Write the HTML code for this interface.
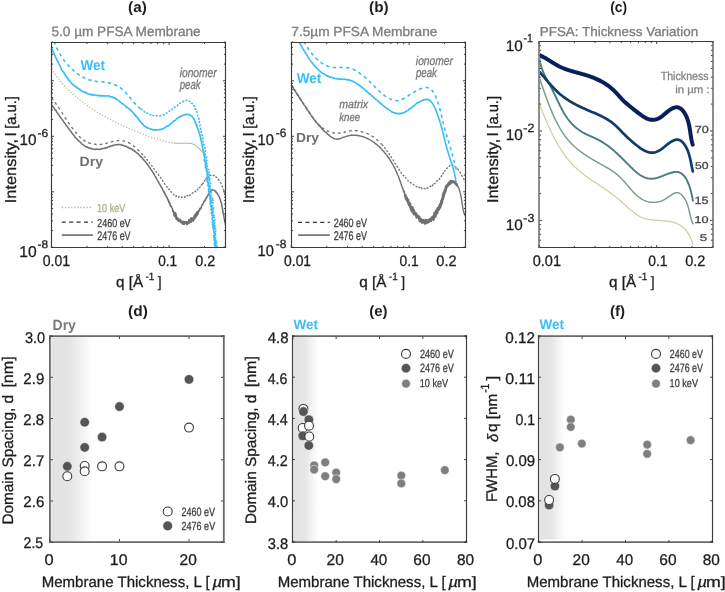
<!DOCTYPE html><html><head><meta charset="utf-8"><style>html,body{margin:0;padding:0;background:#fff;}svg{display:block;will-change:transform;}text{font-family:"Liberation Sans",sans-serif;text-rendering:geometricPrecision;}</style></head><body>
<svg width="725" height="592" viewBox="0 0 725 592">
<defs><linearGradient id="gr" x1="0" x2="1" y1="0" y2="0"><stop offset="0" stop-color="#e2e2e2"/><stop offset="0.44" stop-color="#e5e5e5"/><stop offset="1" stop-color="#fff"/></linearGradient></defs>
<rect width="725" height="592" fill="#fff"/>
<text x="128.14" y="11.9" font-size="14.75" textLength="18.58" lengthAdjust="spacingAndGlyphs" fill="#1e1e1e" font-weight="bold" >(a)</text>
<text x="369.14" y="11.9" font-size="14.75" textLength="19.48" lengthAdjust="spacingAndGlyphs" fill="#1e1e1e" font-weight="bold" >(b)</text>
<text x="610.21" y="11.9" font-size="14.75" textLength="16.95" lengthAdjust="spacingAndGlyphs" fill="#1e1e1e" font-weight="bold" >(c)</text>
<text x="128.13" y="315.8" font-size="14.75" textLength="19.7" lengthAdjust="spacingAndGlyphs" fill="#1e1e1e" font-weight="bold" >(d)</text>
<text x="369.15" y="315.8" font-size="14.75" textLength="18.36" lengthAdjust="spacingAndGlyphs" fill="#1e1e1e" font-weight="bold" >(e)</text>
<text x="610.04" y="315.8" font-size="14.75" textLength="15.1" lengthAdjust="spacingAndGlyphs" fill="#1e1e1e" font-weight="bold" >(f)</text>
<text x="51.46" y="36.4" font-size="13.52" textLength="149.15" lengthAdjust="spacingAndGlyphs" fill="#7c7c7c" stroke="#7c7c7c" stroke-width="0.3" >5.0 µm PFSA Membrane</text>
<text x="291.32" y="36.2" font-size="13.24" textLength="146.02" lengthAdjust="spacingAndGlyphs" fill="#7c7c7c" stroke="#7c7c7c" stroke-width="0.3" >7.5µm PFSA Membrane</text>
<text x="539.73" y="36" font-size="12.97" textLength="158.47" lengthAdjust="spacingAndGlyphs" fill="#7c7c7c" stroke="#7c7c7c" stroke-width="0.3" >PFSA: Thickness Variation</text>
<clipPath id="ca"><rect x="51.5" y="42" width="173.7" height="205.3"/></clipPath>
<g clip-path="url(#ca)">
<path d="M51.47,68.97 L52.14,70 L52.82,71.03 L53.51,72.04 L54.21,73.05 L54.92,74.04 L55.64,75.03 L56.36,76.01 L57.1,76.98 L57.84,77.94 L58.6,78.9 L59.36,79.84 L60.13,80.78 L60.91,81.71 L61.69,82.63 L62.49,83.54 L63.29,84.44 L64.1,85.34 L64.92,86.22 L65.75,87.1 L66.59,87.97 L67.43,88.84 L68.28,89.69 L69.14,90.54 L70,91.38 L70.87,92.21 L71.75,93.03 L72.64,93.85 L73.53,94.66 L74.43,95.46 L75.34,96.25 L76.25,97.04 L77.17,97.82 L78.1,98.59 L79.03,99.35 L79.97,100.11 L80.91,100.86 L81.86,101.6 L82.82,102.34 L83.78,103.06 L84.75,103.79 L85.72,104.5 L86.7,105.21 L87.69,105.91 L88.68,106.61 L89.67,107.29 L90.67,107.97 L91.68,108.65 L92.69,109.32 L93.71,109.98 L94.73,110.64 L95.75,111.29 L96.78,111.93 L97.81,112.56 L98.85,113.2 L99.89,113.82 L100.94,114.44 L101.99,115.05 L103.05,115.66 L104.1,116.26 L105.17,116.85 L106.23,117.44 L107.3,118.03 L108.37,118.6 L109.45,119.18 L110.53,119.74 L111.61,120.3 L112.7,120.86 L113.79,121.41 L114.88,121.96 L115.97,122.5 L117.07,123.03 L118.17,123.56 L119.27,124.09 L120.37,124.6 L121.48,125.12 L122.59,125.63 L123.7,126.13 L124.81,126.63 L125.93,127.13 L127.04,127.62 L128.16,128.1 L129.28,128.59 L130.4,129.06 L131.52,129.53 L132.65,130 L133.77,130.47 L134.9,130.92 L136.03,131.38 L137.15,131.83 L138.28,132.28 L139.41,132.72 L140.54,133.16 L141.67,133.59 L142.8,134.02 L143.93,134.45 L145.06,134.87 L146.19,135.29 L147.33,135.7 L148.46,136.12 L149.59,136.52 L150.72,136.93 L151.85,137.33 L152.98,137.72 L154.11,138.12 L155.24,138.5 L156.37,138.88 L157.51,139.24 L158.64,139.6 L159.78,139.95 L160.92,140.29 L162.07,140.61 L163.22,140.92 L164.37,141.22 L165.53,141.5 L166.69,141.76 L167.85,142.01 L169.03,142.24 L170.2,142.45 L171.39,142.64 L172.58,142.81 L173.78,142.95" fill="none" stroke="#b3ba8e" stroke-width="1.3" stroke-dasharray="1.2,1.8"/>
<path d="M173.78,142.95 L174.98,143.08 L176.2,143.17 L177.42,143.25 L178.65,143.3 L179.89,143.32 L181.14,143.31 L182.39,143.28 L183.65,143.24 L184.9,143.21 L186.15,143.19 L187.38,143.21 L188.6,143.26 L189.79,143.37 L190.96,143.55 L192.09,143.8 L193.19,144.15 L194.25,144.61 L195.26,145.17 L196.23,145.83 L197.17,146.57 L198.08,147.39 L198.96,148.26 L199.82,149.17 L200.66,150.12 L201.49,151.09 L202.32,152.07 L203.14,153.04 L203.96,153.99 L204.79,154.91 L205.63,155.78" fill="none" stroke="#b3ba8e" stroke-width="1.1"/>
<path d="M51.37,104.23 L51.73,105.2 L52.09,105.45 L52.45,106.13 L52.81,106.8 L53.16,106.97 L53.52,107.43 L53.87,107.62 L54.23,108.24 L54.58,108.89 L54.93,109.51 L55.29,110.08 L55.64,110.28 L55.99,110.55 L56.34,111.19 L56.69,112.12 L57.04,112.12 L57.39,112.78 L57.74,113.61 L58.09,113.46 L58.43,114.36 L58.78,115.09 L59.13,115.08 L59.48,115.8 L59.82,116.54 L60.17,116.49 L60.52,117.26 L60.87,117.91 L61.21,118.34 L61.56,118.7 L61.91,119 L62.26,119.7 L62.6,120.11 L62.95,120.67 L63.3,121.08 L63.65,121.91 L64,122.35 L64.35,122.52 L64.7,123.19 L65.05,123.47 L65.4,124.09 L65.75,124.51 L66.1,125.21 L66.46,125.5 L66.81,126.05 L67.17,126.72 L67.52,126.99 L67.88,127.82 L68.23,127.8 L68.59,128.67 L68.95,128.93 L69.31,129.42 L69.67,130.05 L70.04,130.45 L70.4,130.86 L70.76,131.05 L71.13,131.59 L71.5,132.5 L71.86,132.85 L72.23,133.44 L72.6,134.1 L72.98,134.38 L73.35,134.42 L73.72,135.06 L74.1,135.73 L74.48,135.95 L74.87,136.93 L75.25,137.37 L75.64,137.77 L76.03,137.96 L76.43,138.67 L76.83,138.63 L77.23,139.2 L77.64,139.75 L78.06,140.38 L78.47,140.64 L78.9,140.82 L79.33,141.39 L79.76,141.79 L80.2,142.19 L80.65,142.5 L81.1,143.07 L81.56,143.48 L82.02,144.09 L82.5,144.48 L82.98,144.65 L83.47,144.96 L83.96,145.53 L84.46,145.94 L84.97,146.11 L85.49,146.51 L86.02,146.9 L86.55,146.55 L87.09,147.4 L87.63,147.24 L88.19,147.61 L88.75,148.06 L89.31,148.21 L89.88,148.01 L90.46,148.54 L91.04,148.29 L91.63,148.63 L92.21,149.09 L92.81,148.93 L93.4,149.16 L94,149.32 L94.59,149.46 L95.2,149.47 L95.8,148.99 L96.4,149.3 L97,149.34 L97.6,149.05 L98.21,149.37 L98.81,149.38 L99.41,149.49 L100.01,149.5 L100.6,148.86 L101.2,148.84 L101.79,149.04 L102.38,148.55 L102.97,148.49 L103.56,148.59 L104.14,148.15 L104.72,148.41 L105.3,148.29 L105.87,147.52 L106.44,147.68 L107.01,147.67 L107.58,147.59 L108.14,146.9 L108.71,146.62 L109.28,146.91 L109.84,146.73 L110.41,146.03 L110.98,146.01 L111.56,146.02 L112.13,145.93 L112.71,145.29 L113.29,145.48 L113.88,145.44 L114.47,145.13 L115.06,144.75 L115.65,144.58 L116.25,144.68 L116.85,145 L117.46,144.44 L118.06,144.41 L118.66,144.67 L119.26,144.49 L119.86,144.61 L120.46,144.58 L121.06,145.02 L121.65,145.25 L122.24,145.18 L122.83,145.11 L123.41,145.4 L123.99,145.74 L124.56,146.17 L125.14,146.4 L125.7,146.08 L126.26,146.14 L126.82,146.94 L127.37,147.25 L127.92,147.18 L128.46,147.66 L129,148 L129.53,148.1 L130.06,148.57 L130.58,148.27 L131.1,148.76 L131.62,149.07 L132.12,149.29 L132.63,150.17 L133.13,149.89 L133.62,150.68 L134.11,150.61 L134.6,151.17 L135.08,151.57 L135.56,151.77 L136.04,152.38 L136.5,152.77 L136.97,153 L137.43,153.68 L137.89,153.67 L138.34,154.09 L138.79,154.61 L139.23,155.03 L139.67,155.32 L140.1,156.24 L140.54,156.6 L140.96,156.52 L141.38,157.13 L141.8,157.47 L142.22,158.06 L142.63,158.38 L143.03,158.98 L143.43,159.73 L143.83,159.8 L144.22,160.45 L144.61,160.87 L145,161.44 L145.38,161.42 L145.76,162.37 L146.13,162.98 L146.51,163.22 L146.87,163.47 L147.24,164.22 L147.6,164.73 L147.96,165.18 L148.31,165.31 L148.66,166.38 L149.01,166.86 L149.36,166.98 L149.7,167.59 L150.04,167.7 L150.37,168.87 L150.71,169.25 L151.04,169.63 L151.37,170.22 L151.7,170.32 L152.02,170.91 L152.34,171.38 L152.66,172.14 L152.98,172.3 L153.29,173.37 L153.61,173.58 L153.92,174.09 L154.23,174.36 L154.54,175.29 L154.85,175.9 L155.15,176.29 L155.45,176.54 L155.76,177.44 L156.06,177.51 L156.36,178.51 L156.66,178.86 L156.96,179.18 L157.25,179.86 L157.55,180.47 L157.85,180.73 L158.14,181.67 L158.44,181.9 L158.73,182.75 L159.02,183.24 L159.32,183.25 L159.61,184.16 L159.9,184.45 L160.2,185.29 L160.49,185.67 L160.78,186.13 L161.08,187.02 L161.37,186.82 L161.66,187.8 L161.95,188.1 L162.25,188.33 L162.54,189.59 L162.83,189.92 L163.12,190.83 L163.4,191.02 L163.69,191.24 L163.98,192.57 L164.27,192 L164.55,192.44 L164.83,193.88 L165.12,193.91 L165.4,194.43 L165.68,195.72 L165.95,195.43 L166.23,196.84 L166.5,197 L166.78,197.03 L167.05,197.11 L167.32,197.95 L167.58,199.74 L167.85,199.3 L168.11,199.39 L168.37,200.18 L168.63,201.85 L168.88,201 L169.13,202.73 L169.38,202.01 L169.63,204.22 L169.87,203.9 L170.12,203.43 L170.35,205.86 L170.59,205.19 L170.82,206.56 L171.06,206.66 L171.29,206.25 L171.52,206.82 L171.76,207.46 L171.99,208.03 L172.23,208.32 L172.47,208.84 L172.72,211.58 L172.96,210.02 L173.22,211.6 L173.48,211.15 L173.75,211.92 L174.03,213.89 L174.31,214.9 L174.6,214.17 L174.91,213.41 L175.22,216.69 L175.55,214.51 L175.88,215.98 L176.23,216.9 L176.58,218.41 L176.96,218.69 L177.34,218.54 L177.73,218.38 L178.14,220.09 L178.56,220.62 L179,221.04 L179.44,221 L179.9,219.59 L180.38,220.54 L180.87,221.43 L181.37,221.82 L181.9,223.07 L182.43,221.61 L182.99,223.09 L183.56,222.43 L184.14,223.75 L184.74,222.14 L185.34,222.99 L185.94,221.87 L186.54,222.1 L187.13,224.07 L187.69,222.08 L188.25,223.53 L188.8,222.2 L189.32,220.5 L189.83,222.36 L190.33,219.87 L190.81,221.76 L191.27,219 L191.73,220.54 L192.17,218.65 L192.6,218.75 L193.02,220.08 L193.43,218.29 L193.83,218.34 L194.22,218.12 L194.61,215.83 L194.99,217.47 L195.36,217.21 L195.72,214.53 L196.08,215.18 L196.43,213.94 L196.78,214.74 L197.12,212.27 L197.45,213.1 L197.79,213.35 L198.12,212.67 L198.44,210.55 L198.76,211.88 L199.08,209.89 L199.4,210.77 L199.71,209.5 L200.02,208.2 L200.33,209.01 L200.64,208.65 L200.95,207.88 L201.25,207.93 L201.56,205.88 L201.86,205.32 L202.16,204.63 L202.46,204.91 L202.76,204.11 L203.06,203.51 L203.35,203.19 L203.65,202.32 L203.94,201.31 L204.23,201.63 L204.53,200.77 L204.82,200.54 L205.11,200.81 L205.4,199.06 L205.69,199.26 L205.98,198.74 L206.28,197.67 L206.57,197.42 L206.86,197.6 L207.15,196.19 L207.44,196.16 L207.73,195.79 L208.03,194.66 L208.33,194.9 L208.62,193.93 L208.93,193.27 L209.25,192.98 L209.58,192.17 L209.93,191.97 L210.29,191.07 L210.71,191.22 L211.14,190.45 L211.65,189.91 L212.19,189.82 L212.78,190.05 L213.36,190.12 L213.93,190.1 L214.43,190.34 L214.91,190.72 L215.34,191.56 L215.77,191.38 L216.15,192.38 L216.54,192.82 L216.9,192.86 L217.25,193.44 L217.59,194.09 L217.91,194.76 L218.22,195.38 L218.52,195.94 L218.81,195.97 L219.08,196.44 L219.34,197.19 L219.58,197.79 L219.82,198.42 L220.04,198.59 L220.25,199.53 L220.44,200.3 L220.63,200.87 L220.8,201.46 L220.97,202.03 L221.12,202.64 L221.28,202.58 L221.41,203.78 L221.55,203.91 L221.67,204.54 L221.79,205.22 L221.9,206.16 L222.02,206.51 L222.12,206.93 L222.23,207.53 L222.34,208.5 L222.44,209.03 L222.54,209.15 L222.65,209.82 L222.75,210.5 L222.86,210.98 L222.96,211.82 L223.07,212.17 L223.17,213.01 L223.28,213.86 L223.39,214.39 L223.5,214.46 L223.61,215.13 L223.72,215.86 L223.83,216.62 L223.95,217.03 L224.06,217.52 L224.18,218.18 L224.3,218.67 L224.42,219.72 L224.54,220.2 L224.67,220.59 L224.79,221.38 L224.92,221.84 L225.05,222.43 L225.19,222.91 L225.32,223.58 L225.46,224.52 L225.6,224.96 L225.74,225.58 L225.89,225.67 L226.04,226.52 L226.19,227.01 L226.35,227.39 L226.51,228.19 L226.67,228.55 L226.83,229.24 L227,230.21" fill="none" stroke="#707070" stroke-width="1.5" stroke-linejoin="round" />
<path d="M174.03,214.13 L174.31,215.16 L174.6,213.6 L174.91,212.95 L175.22,216.02 L175.55,213.94 L175.88,215.41 L176.23,217.57 L176.58,218.99 L176.96,218.26 L177.34,218.18 L177.73,219.04 L178.14,220.19 L178.56,220.42 L179,220.99 L179.44,220.67 L179.9,219.71 L180.38,220.87 L180.87,221.46 L181.37,222.28 L181.9,222.51 L182.43,221.76 L182.99,223.8 L183.56,221.92 L184.14,223.75 L184.74,222.33 L185.34,222.75 L185.94,222.55 L186.54,222.08 L187.13,224.04 L187.69,222.66 L188.25,222.83 L188.8,222.73 L189.32,219.96 L189.83,222.19 L190.33,219.85 L190.81,221.72 L191.27,218.33 L191.73,220.27 L192.17,218.44 L192.6,219.41 L193.02,220.69 L193.43,218.41 L193.83,218.96 L194.22,218.65 L194.61,215.65 L194.99,216.91 L195.36,217.37 L195.72,214.28 L196.08,214.47 L196.43,214.63 L196.78,215.39 L197.12,212.32 L197.45,213.26 L197.79,213.57" fill="none" stroke="#707070" stroke-width="2.4" stroke-linejoin="round" stroke-linecap="round"/>
<path d="M51.45,97.67 L51.81,97.96 L52.17,98.49 L52.52,98.84 L52.88,99.33 L53.23,99.93 L53.59,100.3 L53.94,100.71 L54.29,101.33 L54.64,101.97 L54.98,102.28 L55.33,103 L55.68,103.43 L56.02,103.91 L56.36,104.5 L56.7,104.67 L57.04,105.2 L57.38,105.99 L57.72,106.49 L58.06,106.66 L58.39,107.44 L58.73,107.63 L59.06,108.18 L59.4,108.67 L59.73,109.25 L60.06,109.79 L60.4,110.5 L60.73,110.81 L61.06,111.19 L61.39,111.75 L61.72,112.15 L62.05,112.66 L62.38,113.32 L62.71,113.86 L63.04,114.26 L63.37,114.81 L63.7,115.2 L64.03,115.93 L64.36,116.33 L64.7,116.74 L65.03,117.37 L65.36,117.76 L65.69,118.3 L66.02,118.73 L66.35,119.5 L66.69,119.8 L67.02,120.57 L67.36,120.85 L67.69,121.25 L68.03,121.97 L68.36,122.48 L68.7,123.04 L69.04,123.23 L69.38,123.99 L69.72,124.52 L70.06,124.79 L70.41,125.35 L70.75,125.91 L71.09,126.25 L71.44,126.99 L71.79,127.42 L72.14,127.97 L72.49,128.29 L72.85,128.81 L73.2,129.16 L73.56,129.69 L73.92,130.34 L74.29,130.91 L74.66,131.06 L75.03,131.5 L75.41,131.97 L75.79,132.59 L76.17,133.19 L76.56,133.42 L76.96,133.98 L77.36,134.45 L77.76,135.02 L78.17,135.19 L78.59,135.57 L79.01,136.19 L79.43,136.56 L79.87,136.95 L80.31,137.55 L80.76,137.92 L81.21,138.07 L81.67,138.65 L82.14,139.13 L82.62,139.54 L83.1,139.53 L83.59,140.2 L84.09,140.24 L84.59,140.82 L85.11,141.1 L85.63,141.54 L86.15,141.71 L86.69,141.76 L87.23,142.26 L87.78,142.34 L88.33,142.81 L88.9,142.7 L89.46,143.03 L90.03,143.35 L90.61,143.32 L91.19,143.67 L91.77,143.85 L92.36,143.99 L92.95,144.17 L93.55,144.08 L94.14,144.07 L94.74,144.19 L95.33,144.31 L95.93,144.22 L96.54,144.53 L97.14,144.3 L97.74,144.31 L98.34,144.66 L98.94,144.61 L99.54,144.36 L100.14,144.37 L100.75,144.52 L101.34,144.38 L101.94,144.17 L102.54,144.16 L103.13,144.23 L103.73,143.78 L104.32,144.06 L104.9,143.76 L105.49,143.47 L106.07,143.56 L106.65,143.12 L107.23,143.09 L107.81,142.98 L108.39,142.68 L108.97,142.76 L109.54,142.51 L110.12,142.13 L110.69,141.95 L111.27,141.75 L111.85,141.79 L112.43,141.48 L113.02,141.47 L113.6,141.45 L114.19,141.34 L114.78,140.92 L115.37,140.89 L115.97,140.84 L116.57,140.74 L117.16,140.69 L117.76,140.65 L118.36,140.73 L118.96,140.52 L119.57,140.52 L120.17,140.54 L120.77,140.46 L121.37,140.69 L121.97,140.64 L122.57,140.92 L123.17,140.96 L123.76,140.83 L124.35,140.96 L124.93,141.32 L125.51,141.39 L126.08,141.36 L126.65,141.8 L127.21,141.94 L127.76,142.33 L128.31,142.57 L128.84,142.91 L129.37,143.11 L129.89,143.5 L130.41,143.56 L130.91,143.91 L131.41,144.14 L131.9,144.8 L132.39,144.88 L132.87,145.4 L133.34,145.76 L133.81,146.26 L134.27,146.47 L134.73,146.76 L135.18,147.26 L135.63,147.52 L136.08,148.03 L136.52,148.57 L136.96,148.75 L137.4,149.54 L137.83,149.77 L138.26,150.1 L138.69,150.73 L139.12,150.88 L139.54,151.38 L139.97,152.05 L140.39,152.21 L140.81,152.84 L141.22,153.01 L141.63,153.63" fill="none" stroke="#707070" stroke-width="1.3" stroke-dasharray="2.8,3.2" stroke-linejoin="round" />
<path d="M141.63,153.44 L142.05,154.01 L142.45,154.43 L142.86,155.02 L143.26,155.41 L143.67,155.83 L144.07,156.48 L144.46,156.88 L144.86,157.04 L145.25,157.55 L145.64,158.07 L146.03,158.39 L146.42,159.13 L146.81,159.59 L147.19,159.87 L147.57,160.58 L147.95,160.9 L148.33,161.24 L148.71,161.87 L149.08,162.36 L149.46,162.85 L149.83,163.43 L150.2,163.88 L150.57,164.15 L150.93,164.64 L151.3,164.95 L151.67,165.59 L152.03,165.97 L152.39,166.43 L152.75,167.19 L153.11,167.36 L153.47,167.88 L153.83,168.58 L154.19,169.03 L154.54,169.46 L154.9,170.09 L155.25,170.35 L155.61,170.83 L155.96,171.44 L156.31,171.76 L156.66,172.48 L157.02,173.07 L157.37,173.51 L157.72,174.03 L158.07,174.19 L158.42,174.82 L158.77,175.51 L159.12,175.97 L159.46,176.36 L159.81,176.88 L160.16,177.21 L160.51,177.7 L160.86,178.09 L161.21,178.97 L161.56,179.16 L161.91,180.02 L162.26,179.98 L162.61,180.91 L162.96,181.24 L163.31,181.43 L163.66,182.31 L164.01,182.83 L164.36,183.32 L164.72,183.81 L165.07,184.29 L165.42,184.85 L165.78,185.04 L166.13,185.99 L166.49,186.09 L166.85,186.39 L167.21,187.5 L167.58,187.35 L167.94,187.97 L168.31,188.69 L168.69,189.26 L169.07,189.25 L169.45,189.42 L169.84,190.44 L170.24,190.91 L170.64,191.51 L171.05,191.43 L171.47,192.51 L171.89,192.89 L172.32,193.42 L172.77,193.71 L173.22,194.01 L173.68,194.25 L174.15,195.03 L174.63,194.53 L175.13,195.48 L175.63,195.99 L176.15,196.27 L176.68,195.66 L177.22,196.17 L177.77,197.28 L178.34,197.26 L178.91,196.57 L179.5,197.18 L180.09,197.75 L180.68,197.91 L181.29,197.46 L181.89,196.89 L182.49,197.03 L183.09,196.7 L183.68,196.8 L184.27,196.53 L184.85,197.27 L185.43,197.1 L185.99,196.53 L186.56,196.93 L187.11,195.67 L187.66,195.49 L188.2,195.82 L188.75,195.44 L189.28,194.6 L189.82,195.43 L190.35,194.75 L190.89,194.45 L191.41,193.83 L191.94,193.87 L192.47,192.82 L192.99,192.84 L193.5,192.99 L194.01,192.63 L194.52,192.2 L195.02,191.2 L195.51,191.23 L196,191.81 L196.47,191.38 L196.95,190.83 L197.4,189.38 L197.86,189 L198.29,188.78 L198.72,189.22 L199.14,187.91 L199.55,187.5 L199.94,187.09 L200.33,187.3 L200.7,186.54 L201.07,186.53 L201.44,184.95 L201.79,184.43 L202.14,185.05 L202.49,183.53 L202.84,183.88 L203.18,183.23 L203.52,182.18 L203.86,181.76 L204.21,181.94 L204.55,180.44 L204.9,181.26 L205.25,179.5 L205.61,179.18 L205.97,179.35 L206.35,178.18 L206.72,178.87 L207.12,177.69 L207.52,176.78 L207.95,176.49 L208.39,176.54 L208.86,176.54 L209.34,175.48 L209.86,175.33 L210.4,175.27 L210.97,175.15 L211.56,175.12 L212.16,174.73 L212.76,174.85 L213.33,175.48 L213.89,175.73 L214.42,175.58 L214.93,176.38 L215.42,176.06 L215.88,176.95 L216.34,177.39 L216.77,177.57 L217.19,178.08 L217.59,178.11 L217.99,179.07 L218.36,179.44 L218.73,179.85 L219.08,180.34 L219.42,180.6 L219.75,181.48 L220.06,181.82 L220.37,182.38 L220.66,182.69 L220.94,183.44 L221.21,183.8 L221.47,184.57 L221.72,184.81 L221.97,185.41 L222.2,186 L222.43,186.63 L222.65,187.38 L222.87,187.59 L223.08,188.38 L223.29,188.73 L223.49,189.44 L223.69,189.97 L223.89,190.49 L224.09,191.18 L224.3,191.69 L224.5,192.23 L224.7,192.93 L224.91,193.35 L225.12,194.21 L225.34,194.48 L225.56,195.33 L225.79,195.56 L226.03,196.43 L226.28,196.62 L226.54,197.14 L226.8,197.72 L227.09,198.49 L227.38,198.83 L227.69,199.36 L228,200.04" fill="none" stroke="#707070" stroke-width="1.3" stroke-dasharray="2.1,1.7" stroke-linejoin="round" />
<path d="M51.9,48.17 L51.83,48.87 L52.17,49.37 L52.58,49.84 L52.36,50.61 L52.96,50.99 L53.26,51.52 L53.25,52.18 L53.4,52.78 L54.05,53.14 L54.36,53.66 L54.08,54.45 L54.67,54.84 L54.85,55.42 L55.15,55.94 L55.16,56.6 L55.67,57.03 L55.71,57.67 L56.11,58.15 L56.64,58.57 L56.62,59.24 L56.65,59.89 L57.11,60.33 L57.46,60.84 L57.95,61.27 L57.78,62.02 L58.23,62.47 L58.54,62.99 L58.77,63.54 L59.01,64.09 L59.33,64.61 L59.62,65.13 L59.79,65.72 L60.32,66.12 L60.49,66.71 L60.63,67.31 L60.64,67.99 L61.21,68.37 L61.42,68.94 L61.5,69.58 L61.85,70.08 L62.21,70.57 L62.57,71.05 L62.89,71.56 L63.44,71.93 L63.79,72.42 L64.15,72.91 L64.45,73.42 L64.46,74.13 L64.8,74.63 L65.46,74.91 L65.34,75.72 L65.91,76.05 L66.2,76.58 L66.82,76.88 L66.73,77.69 L67.53,77.84 L67.82,78.37 L68.05,78.95 L68.42,79.43 L68.78,79.91 L68.95,80.56 L69.82,80.6 L69.88,81.35 L70.41,81.68 L70.63,82.3 L71.12,82.67 L71.47,83.17 L71.86,83.63 L72.34,84 L73.08,84.09 L73.33,84.71 L73.67,85.24 L74.12,85.63 L74.51,86.11 L75.2,86.22 L75.84,86.38 L76,87.15 L76.67,87.27 L76.99,87.84 L77.72,87.86 L78.09,88.38 L78.47,88.88 L79.17,88.92 L79.59,89.36 L80.16,89.58 L80.4,90.34 L80.96,90.58 L81.53,90.8 L82.1,91.02 L82.47,91.59 L83.24,91.43 L83.64,91.97 L84.37,91.85 L84.75,92.44 L85.42,92.41 L86.02,92.52 L86.34,93.33 L87.06,93.14 L87.46,93.81 L88.1,93.8 L88.68,93.99 L89.26,94.16 L89.78,94.54 L90.5,94.17 L90.96,94.84 L91.65,94.51 L92.26,94.47 L92.75,95.15 L93.44,94.68 L93.99,95.03 L94.56,95.36 L95.2,95.04 L95.77,95.41 L96.37,95.42 L96.97,95.5 L97.6,95.17 L98.17,95.6 L98.76,95.74 L99.39,95.28 L99.96,95.89 L100.56,95.91 L101.19,95.5 L101.76,95.98 L102.36,96 L103,95.46 L103.57,95.93 L104.16,96.12 L104.77,96.06 L105.4,95.62 L105.99,95.86 L106.57,96.02 L107.19,95.95 L107.78,96.03 L108.41,95.91 L109.02,95.94 L109.58,96.25 L110.16,96.45 L110.72,96.68 L111.23,97.09 L111.98,96.67 L112.5,97.03 L112.94,97.57 L113.5,97.77 L114.25,97.56 L114.61,98.19 L115.34,98.12 L115.55,98.94 L116.32,98.86 L116.68,99.39 L117.23,99.66 L117.7,100.04 L118.31,100.23 L118.72,100.68 L119.23,101.01 L119.56,101.56 L120.11,101.83 L120.52,102.29 L121.01,102.63 L121.43,103.07 L121.78,103.61 L122.44,103.73 L122.91,104.1 L123.36,104.51 L123.87,104.84 L124.4,105.13 L124.95,105.4 L125.3,105.93 L125.9,106.14 L126.19,106.74 L126.57,107.24 L127.07,107.57 L127.54,107.94 L128.26,108.01 L128.81,108.3 L129.19,108.78 L129.48,109.37 L130.14,109.53 L130.6,109.92 L130.61,110.79 L131.36,110.87 L131.94,111.15 L132.15,111.79 L132.48,112.31 L133.01,112.63 L133.59,112.91 L133.8,113.54 L134.43,113.78 L134.48,114.54 L134.75,115.09 L135.62,115.16 L135.71,115.86 L135.94,116.44 L136.42,116.83 L137.06,117.09 L137.48,117.53 L137.63,118.17 L138.23,118.47 L138.17,119.28 L138.72,119.61 L139.2,119.99 L139.33,120.66 L140.02,120.88 L140.24,121.47 L140.64,121.93 L141.24,122.19 L141.28,122.96 L141.75,123.36 L142.42,123.55 L142.72,124.09 L143.22,124.44 L143.36,125.17 L143.95,125.43 L144.29,125.96 L144.85,126.24 L145.32,126.61 L146.01,126.68 L146.31,127.32 L147.02,127.32 L147.38,127.92 L147.95,128.12 L148.56,128.26 L149.2,128.28 L149.64,128.78 L150.2,129.01 L150.76,129.24 L151.46,128.99 L152,129.27 L152.54,129.62 L153.09,129.94 L153.76,129.61 L154.29,130.15 L154.89,130.27 L155.54,129.69 L156.12,130.15 L156.72,129.92 L157.31,129.72 L157.91,129.73 L158.51,129.77 L159.06,129.44 L159.74,129.8 L160.29,129.5 L160.85,129.28 L161.53,129.46 L162.13,129.33 L162.57,128.78 L163.09,128.47 L163.72,128.41 L164.21,128.03 L164.9,128.06 L165.23,127.4 L165.69,127.01 L166.17,126.64 L166.73,126.41 L167.2,126.05 L168.02,126.18 L168.42,125.71 L168.87,125.3 L169.51,125.14 L169.85,124.6 L170.36,124.27 L170.59,123.6 L171.12,123.29 L171.73,123.09 L172.29,122.82 L172.5,122.14 L173.04,121.84 L173.42,121.37 L173.88,120.98 L174.47,120.75 L175.09,120.55 L175.58,120.2 L175.86,119.6 L176.1,118.93 L176.68,118.69 L177.32,118.54 L177.92,118.34 L178.09,117.54 L178.85,117.6 L179.37,117.3 L179.59,116.51 L180.4,116.7 L180.81,116.22 L181.42,116.1 L181.91,115.74 L182.46,115.51 L183.06,115.43 L183.6,115.16 L184.11,114.76 L184.69,114.6 L185.35,114.9 L185.88,114.33 L186.49,114.37 L187.1,114.18 L187.7,114.36 L188.28,114.6 L188.93,114.45 L189.47,114.77 L189.99,115.1 L190.59,115.24 L190.97,115.76 L191.53,116 L192.07,116.31 L192.27,116.94 L192.74,117.32 L193.15,117.77 L193.65,118.16 L193.47,118.98 L194.26,119.22 L194.41,119.83 L194.54,120.43 L194.57,121.08 L195.22,121.44 L195.58,121.95 L195.43,122.66 L195.49,123.28 L196.04,123.71 L195.9,124.41 L196.56,124.8 L196.41,125.5 L197.2,125.85 L196.96,126.58 L197.03,127.19 L197.63,127.62 L197.45,128.31 L197.81,128.83 L198.19,129.33 L198.56,129.84 L198.33,130.55 L198.71,131.06 L198.77,131.67 L199.18,132.18 L199.48,132.72 L199.59,133.31 L199.4,133.99 L199.91,134.47 L199.96,135.09 L199.92,135.72 L200.29,136.24 L200.31,136.86 L200.5,137.43 L200.41,138.08 L200.81,138.6 L201.03,139.16 L200.7,139.86 L201.39,140.31 L201.21,140.97 L201.36,141.55 L201.68,142.1 L201.54,142.75 L201.66,143.33 L201.98,143.88 L202.21,144.45 L202.47,145.01 L202.08,145.7 L202.12,146.31 L202.72,146.8 L202.8,147.4 L202.69,148.03 L202.71,148.64 L202.78,149.24 L202.93,149.82 L203.1,150.4 L203.24,150.98 L203.83,151.49 L203.55,152.15 L203.46,152.77 L203.92,153.31 L204.08,153.89 L204.03,154.51 L204,155.12 L204.63,155.63 L203.97,156.35 L204.1,156.93 L204.72,157.45 L204.79,158.04 L204.97,158.62 L204.79,159.26 L204.24,159.95 L205,160.44 L204.44,161.14 L205.45,161.59 L205.47,162.2 L205.22,162.84 L205.78,163.37 L205.93,163.96 L205.25,164.66 L205.8,165.19 L205.38,165.86 L206.15,166.35 L206.13,166.96 L205.34,167.69 L205.89,168.22 L206.69,168.71 L206.31,169.37 L206.91,169.89 L207.07,170.47 L206.34,171.19 L207.18,171.67 L207.11,172.29 L207.44,172.85 L207.47,173.45 L206.97,174.13 L207.57,174.66 L207.39,175.29 L207.26,175.91 L207.8,176.44 L208,177.02 L208.07,177.62 L206.63,178.44 L207.87,178.87 L207.75,179.49 L207.24,180.17 L207.25,180.78 L207.51,181.35 L207.18,182 L208.02,182.49 L208.86,182.98 L208.02,183.7 L208.44,184.25 L207.74,184.96 L209.04,185.38 L208.22,186.1 L209.69,186.5 L209,187.21 L209.16,187.79 L209.77,188.31 L208.34,189.12 L208.41,189.72 L209.69,190.15 L208.82,190.88 L208.5,191.53 L209.26,192.03 L209.78,192.56 L209.21,193.25 L209.88,193.76 L209.6,194.41 L209.49,195.03 L210.34,195.52 L209.65,196.22 L210.05,196.78 L209.96,197.39 L210.67,197.91 L209.8,198.63 L211.12,199.06 L210.51,199.75 L210.48,200.36 L211.65,200.81 L210.08,201.62 L210.67,202.15 L211.74,202.62 L210.21,203.42 L210.57,203.98 L210.23,204.63 L210.79,205.17 L211.23,205.72 L210.71,206.39 L211.69,206.87 L211.6,207.49 L211.84,208.07 L211.98,208.65 L210.77,209.41 L211.75,209.89 L211.82,210.49 L212.16,211.06 L212.34,211.64 L212.61,212.21 L211.19,212.99 L211.71,213.53 L212.31,214.07 L212.13,214.69 L211.7,215.35 L212.75,215.83 L213,216.41 L212.66,217.05 L212.77,217.65 L212.06,218.33 L211.99,218.94 L212.14,219.53 L212.55,220.09 L212.96,220.65 L213.76,221.17 L212.25,221.94 L212.47,222.52 L213.22,223.04 L212.81,223.69 L212.57,224.32 L213.88,224.79 L213.38,225.44 L212.63,226.12 L214.23,226.56 L214.44,227.15 L212.83,227.91 L213.05,228.5 L214.85,228.92 L213.78,229.63 L213.71,230.24 L213.61,230.85 L213.88,231.43 L214.05,232.02 L214.01,232.63 L214.04,233.23 L215.2,233.73 L215.08,234.34 L214.9,234.96 L213.61,235.68 L214.63,236.19 L214.38,236.82 L213.68,237.48 L215.55,237.93 L215.41,238.54 L215.27,239.16 L213.99,239.87 L214.46,240.43 L215.73,240.93 L215.91,241.52 L215.75,242.14 L214.23,242.86 L215.31,243.38 L214.42,244.05 L214.51,244.64 L214.3,245.26 L215.23,245.8 L215.84,246.36 L215.37,246.99 L214.62,247.65 L214.54,248.25 L215.74,248.78 L215.59,249.39 L214.97,250.03" fill="none" stroke="#38bdf5" stroke-width="1.6" stroke-linejoin="round" />
<path d="M53.82,41.45 L54.06,41.96 L54.29,42.52 L54.53,43.14 L54.76,43.62 L55.01,44.32 L55.25,44.85 L55.5,45.47 L55.75,45.96 L56.01,46.42 L56.27,46.88 L56.53,47.44 L56.79,48.18 L57.06,48.64 L57.33,49.02 L57.61,49.67 L57.88,50.29 L58.16,50.83 L58.45,51.37 L58.74,51.92 L59.03,52.32 L59.32,52.9 L59.62,53.25 L59.93,53.94 L60.23,54.42 L60.54,54.84 L60.85,55.37 L61.17,56.02 L61.49,56.38 L61.82,56.92 L62.15,57.44 L62.48,58.05 L62.81,58.38 L63.16,58.85 L63.5,59.37 L63.85,60.02 L64.2,60.31 L64.56,60.94 L64.92,61.41 L65.29,61.85 L65.65,62.32 L66.03,62.85 L66.41,63.17 L66.79,63.72 L67.17,64.21 L67.57,64.58 L67.96,65.15 L68.36,65.54 L68.76,65.91 L69.17,66.37 L69.58,66.87 L70,67.4 L70.42,67.88 L70.85,68.21 L71.28,68.5 L71.71,69.08 L72.15,69.58 L72.6,69.73 L73.04,70.23 L73.5,70.52 L73.95,71.09 L74.41,71.33 L74.88,71.96 L75.35,72.18 L75.82,72.62 L76.3,72.89 L76.78,73.26 L77.27,73.51 L77.75,74.12 L78.25,74.28 L78.75,74.62 L79.25,74.98 L79.76,75.26 L80.27,75.61 L80.78,75.92 L81.3,76.43 L81.82,76.7 L82.35,76.82 L82.87,77.27 L83.41,77.31 L83.94,77.75 L84.48,78.1 L85.03,78.16 L85.58,78.39 L86.13,78.82 L86.68,79.01 L87.24,79.33 L87.81,79.3 L88.37,79.5 L88.94,79.67 L89.52,79.93 L90.09,80.02 L90.67,80.35 L91.26,80.34 L91.84,80.59 L92.43,80.73 L93.02,80.72 L93.61,81 L94.21,81.19 L94.81,81.09 L95.4,81.2 L96,81.23 L96.6,81.47 L97.2,81.49 L97.8,81.58 L98.4,81.45 L99,81.48 L99.6,81.44 L100.2,81.5 L100.8,81.82 L101.4,81.75 L102,81.76 L102.6,81.73 L103.2,82.03 L103.79,81.83 L104.39,82.08 L104.99,82.15 L105.58,82.28 L106.18,82.38 L106.77,82.46 L107.36,82.54 L107.95,82.63 L108.54,82.87 L109.12,82.81 L109.71,83 L110.29,83.3 L110.87,83.5 L111.44,83.61 L112.02,83.6 L112.59,84.03 L113.16,84.27 L113.72,84.33 L114.28,84.53 L114.84,84.75 L115.39,85.06 L115.94,85.18 L116.48,85.43 L117.02,85.96 L117.55,86.09 L118.08,86.38 L118.6,86.62 L119.12,86.85 L119.62,87.18 L120.12,87.52 L120.62,88.05 L121.1,88.43 L121.58,88.85 L122.05,89.24 L122.51,89.38 L122.96,89.73 L123.41,90.34 L123.84,90.63 L124.28,91.24 L124.7,91.54 L125.12,91.95 L125.53,92.39 L125.94,92.8 L126.34,93.32 L126.74,93.66 L127.13,94.35 L127.53,94.76 L127.91,95.24 L128.3,95.73 L128.68,96.11 L129.06,96.65 L129.44,97.06 L129.81,97.45 L130.19,97.79 L130.57,98.4 L130.95,98.88 L131.33,99.41 L131.71,99.91 L132.09,100.31 L132.47,100.61 L132.86,101.07 L133.25,101.76 L133.64,102.23 L134.04,102.53 L134.43,102.89 L134.84,103.34 L135.25,103.79 L135.66,104.46 L136.08,104.75 L136.5,105.19 L136.92,105.72 L137.36,105.97 L137.79,106.47 L138.23,106.9 L138.68,107.25 L139.13,107.56 L139.58,108.05 L140.04,108.34 L140.51,108.79 L140.98,109.19" fill="none" stroke="#38bdf5" stroke-width="1.6" stroke-dasharray="3.4,3.3" stroke-linejoin="round" />
<path d="M141.13,109.02 L141.35,109.72 L142.09,109.74 L142.26,110.53 L142.75,110.88 L143.3,111.15 L143.96,111.25 L144.36,111.74 L144.76,112.24 L145.37,112.41 L145.91,112.68 L146.62,112.64 L147.14,112.93 L147.52,113.51 L148.1,113.69 L148.64,113.94 L149.26,114.02 L149.8,114.3 L150.23,114.85 L150.91,114.74 L151.37,115.28 L152.09,114.98 L152.61,115.35 L153.19,115.54 L153.77,115.69 L154.36,115.87 L154.96,115.92 L155.56,116.02 L156.2,115.61 L156.79,115.65 L157.38,115.68 L157.98,115.71 L158.6,115.97 L159.19,115.81 L159.8,115.82 L160.38,115.65 L160.97,115.5 L161.49,115.13 L162.19,115.35 L162.74,115.1 L163.31,114.88 L163.91,114.75 L164.34,114.21 L164.88,113.97 L165.43,113.72 L165.93,113.38 L166.5,113.17 L167.06,112.92 L167.56,112.59 L167.94,112.06 L168.62,112.01 L168.9,111.35 L169.44,111.07 L170,110.82 L170.64,110.68 L170.92,110.04 L171.61,109.96 L172,109.48 L172.52,109.16 L172.85,108.6 L173.57,108.55 L173.92,108.03 L174.18,107.38 L174.92,107.35 L175.26,106.81 L175.87,106.61 L176.29,106.17 L176.86,105.91 L177.31,105.51 L177.69,105.02 L178.2,104.7 L178.42,104 L179.16,103.98 L179.62,103.6 L180.18,103.36 L180.61,102.93 L181.07,102.53 L181.63,102.31 L182.1,101.92 L182.6,101.58 L183.27,101.59 L183.71,101.11 L184.2,100.67 L184.79,100.49 L185.43,100.54 L186.04,100.52 L186.64,100.55 L187.27,100.28 L187.83,100.67 L188.34,101.04 L188.92,101.15 L189.46,101.37 L190.03,101.59 L190.39,102.11 L191.15,102.11 L191.32,102.83 L191.77,103.22 L192.32,103.53 L192.67,104.03 L193.2,104.38 L193.63,104.82 L193.81,105.44 L194.14,105.94 L194.36,106.51 L194.75,106.98 L194.75,107.67 L195.42,108 L195.32,108.72 L195.72,109.19 L196.14,109.67 L196.01,110.37 L196.41,110.86 L196.88,111.33 L196.64,112.05 L197.17,112.51 L197.19,113.14 L197.3,113.73 L197.43,114.32 L197.61,114.89 L197.7,115.49 L197.89,116.06 L198.37,116.56 L198.3,117.2 L198.48,117.77 L198.83,118.31 L198.79,118.94 L198.72,119.57 L199.04,120.11 L199.2,120.69 L199.28,121.29 L199.36,121.89 L199.37,122.51 L199.45,123.11 L199.91,123.62 L200.05,124.21 L200.15,124.8 L199.95,125.46 L200.05,126.05 L200.51,126.57 L200.34,127.22 L200.63,127.78 L200.52,128.42 L200.87,128.96 L200.79,129.59 L201.12,130.13 L201.36,130.7 L201.19,131.35 L201.61,131.88 L201.46,132.52 L201.73,133.08 L201.97,133.65 L202,134.26 L201.86,134.9 L202.34,135.42 L202.58,135.98 L202.21,136.67 L202.79,137.17 L202.84,137.77 L202.81,138.39 L202.75,139.02 L202.74,139.63 L203.33,140.13 L203.42,140.73 L203.03,141.41 L203.43,141.95 L203.33,142.58 L203.79,143.11 L203.96,143.69 L203.62,144.36 L204.25,144.86 L204.32,145.46 L204.34,146.07 L204.48,146.65 L204.74,147.22 L204.74,147.83 L204.96,148.4 L204.74,149.05 L204.68,149.67 L204.96,150.24 L205.51,150.75 L205.09,151.44 L205.06,152.05 L205.73,152.55 L205.51,153.2 L205.07,153.88 L205.32,154.45 L205.84,154.97 L206.17,155.53 L206.39,156.1 L206.64,156.67 L206.51,157.3 L206.3,157.95 L206.39,158.54 L206.9,159.07 L206.64,159.72 L206.75,160.31 L206.36,160.99 L206.29,161.61 L206.33,162.21 L207.07,162.7 L206.65,163.38 L207.07,163.92 L207.91,164.4 L208.05,164.99 L207.36,165.7 L207.34,166.31 L207.47,166.9 L207.82,167.46 L207.74,168.08 L207.71,168.69 L207.74,169.3 L208.71,169.76 L208.28,170.43 L208.59,171 L208.44,171.63 L208.67,172.2 L209.26,172.72 L208.21,173.48 L208.72,174.02 L208.25,174.69 L209.65,175.1 L209.65,175.71 L209.69,176.31 L208.6,177.08 L209.26,177.59 L208.95,178.24 L210.1,178.69 L209.12,179.43 L210.26,179.88 L209.03,180.66 L209.74,181.17 L209.11,181.86 L209.7,182.39 L209.84,182.98 L210.61,183.48 L209.95,184.18 L209.83,184.8 L210.14,185.37 L210.09,185.98 L209.86,186.62 L210.23,187.18 L210.39,187.76 L210.65,188.34 L210.84,188.92 L210.51,189.57 L210.4,190.19 L210.63,190.76 L211.71,191.24 L211.53,191.87 L211.04,192.53 L211.18,193.12 L210.7,193.79 L210.67,194.4 L210.88,194.98 L211.41,195.52 L211.3,196.14 L211.17,196.76 L212.35,197.23 L212.16,197.86 L212.69,198.4 L211.8,199.11 L211.4,199.76 L212.93,200.19 L212.8,200.81 L212.75,201.42 L211.9,202.13 L212.62,202.65 L212.96,203.22 L212.75,203.85 L213,204.43 L213.07,205.02 L212.64,205.68 L212.54,206.29 L213.27,206.82 L212.86,207.47 L213.75,207.98 L212.31,208.74 L213.76,209.19 L213.1,209.87 L212.46,210.54 L213.6,211.02 L213.72,211.62 L213.06,212.29 L213.56,212.84 L213.94,213.41 L213.51,214.06 L213.16,214.7 L213.48,215.27 L214.22,215.8 L213.6,216.47 L213.24,217.11 L214.47,217.59 L213.8,218.26 L214.1,218.84 L213.9,219.46 L214.79,219.98 L214.7,220.6 L214.58,221.21 L213.85,221.89 L214.63,222.42 L214.76,223.01 L214.17,223.67 L215.19,224.18 L214.96,224.81 L214.65,225.44 L215.03,226.01 L214.68,226.65 L214.73,227.25 L215.52,227.78 L215.58,228.38 L214.6,229.07 L215.24,229.62 L215.72,230.18 L215.89,230.77 L215.39,231.42 L214.77,232.08 L215.84,232.59 L214.63,233.3 L216.24,233.76 L215.37,234.44 L215.26,235.05 L215.57,235.63 L216.06,236.19 L216.02,236.8 L215.69,237.43 L215.2,238.08 L216,238.62 L216.17,239.21 L216.13,239.81 L215.23,240.49 L216.45,241 L216.65,241.58 L215.54,242.28 L216.81,242.78 L215.72,243.47 L216.11,244.04 L215.63,244.68 L216.7,245.2 L215.89,245.87 L217.16,246.38 L216.1,247.06 L216.87,247.61 L216.7,248.22 L216.21,248.86 L216.52,249.44 L216.84,250.02" fill="none" stroke="#38bdf5" stroke-width="1.6" stroke-dasharray="2,1.6" stroke-linejoin="round" />
</g>
<path d="M50.92,42.5 H226.07 M50.92,247.5 H226.07" stroke="#3c3c3c" stroke-width="1.15" fill="none"/>
<path d="M51.5,41.92 V248.07 M225.5,41.92 V248.07" stroke="#3c3c3c" stroke-width="1.15" fill="none"/>
<line x1="51.5" y1="247.5" x2="51.5" y2="245" stroke="#333" stroke-width="0.9" stroke-linecap="butt"/>
<line x1="51.5" y1="42.5" x2="51.5" y2="45" stroke="#333" stroke-width="0.9" stroke-linecap="butt"/>
<line x1="169.09" y1="247.5" x2="169.09" y2="245" stroke="#333" stroke-width="0.9" stroke-linecap="butt"/>
<line x1="169.09" y1="42.5" x2="169.09" y2="45" stroke="#333" stroke-width="0.9" stroke-linecap="butt"/>
<line x1="86.9" y1="247.5" x2="86.9" y2="245.9" stroke="#333" stroke-width="0.9" stroke-linecap="butt"/>
<line x1="86.9" y1="42.5" x2="86.9" y2="44.1" stroke="#333" stroke-width="0.9" stroke-linecap="butt"/>
<line x1="107.61" y1="247.5" x2="107.61" y2="245.9" stroke="#333" stroke-width="0.9" stroke-linecap="butt"/>
<line x1="107.61" y1="42.5" x2="107.61" y2="44.1" stroke="#333" stroke-width="0.9" stroke-linecap="butt"/>
<line x1="122.3" y1="247.5" x2="122.3" y2="245.9" stroke="#333" stroke-width="0.9" stroke-linecap="butt"/>
<line x1="122.3" y1="42.5" x2="122.3" y2="44.1" stroke="#333" stroke-width="0.9" stroke-linecap="butt"/>
<line x1="133.69" y1="247.5" x2="133.69" y2="245.9" stroke="#333" stroke-width="0.9" stroke-linecap="butt"/>
<line x1="133.69" y1="42.5" x2="133.69" y2="44.1" stroke="#333" stroke-width="0.9" stroke-linecap="butt"/>
<line x1="143.01" y1="247.5" x2="143.01" y2="245.9" stroke="#333" stroke-width="0.9" stroke-linecap="butt"/>
<line x1="143.01" y1="42.5" x2="143.01" y2="44.1" stroke="#333" stroke-width="0.9" stroke-linecap="butt"/>
<line x1="150.88" y1="247.5" x2="150.88" y2="245.9" stroke="#333" stroke-width="0.9" stroke-linecap="butt"/>
<line x1="150.88" y1="42.5" x2="150.88" y2="44.1" stroke="#333" stroke-width="0.9" stroke-linecap="butt"/>
<line x1="157.7" y1="247.5" x2="157.7" y2="245.9" stroke="#333" stroke-width="0.9" stroke-linecap="butt"/>
<line x1="157.7" y1="42.5" x2="157.7" y2="44.1" stroke="#333" stroke-width="0.9" stroke-linecap="butt"/>
<line x1="163.71" y1="247.5" x2="163.71" y2="245.9" stroke="#333" stroke-width="0.9" stroke-linecap="butt"/>
<line x1="163.71" y1="42.5" x2="163.71" y2="44.1" stroke="#333" stroke-width="0.9" stroke-linecap="butt"/>
<line x1="204.49" y1="247.5" x2="204.49" y2="245.9" stroke="#333" stroke-width="0.9" stroke-linecap="butt"/>
<line x1="204.49" y1="42.5" x2="204.49" y2="44.1" stroke="#333" stroke-width="0.9" stroke-linecap="butt"/>
<line x1="225.2" y1="247.5" x2="225.2" y2="245.9" stroke="#333" stroke-width="0.9" stroke-linecap="butt"/>
<line x1="225.2" y1="42.5" x2="225.2" y2="44.1" stroke="#333" stroke-width="0.9" stroke-linecap="butt"/>
<line x1="51.5" y1="247.3" x2="54" y2="247.3" stroke="#333" stroke-width="0.9" stroke-linecap="butt"/>
<line x1="225.5" y1="247.3" x2="223" y2="247.3" stroke="#333" stroke-width="0.9" stroke-linecap="butt"/>
<line x1="51.5" y1="191.8" x2="54" y2="191.8" stroke="#333" stroke-width="0.9" stroke-linecap="butt"/>
<line x1="225.5" y1="191.8" x2="223" y2="191.8" stroke="#333" stroke-width="0.9" stroke-linecap="butt"/>
<line x1="51.5" y1="136.3" x2="54" y2="136.3" stroke="#333" stroke-width="0.9" stroke-linecap="butt"/>
<line x1="225.5" y1="136.3" x2="223" y2="136.3" stroke="#333" stroke-width="0.9" stroke-linecap="butt"/>
<line x1="51.5" y1="80.8" x2="54" y2="80.8" stroke="#333" stroke-width="0.9" stroke-linecap="butt"/>
<line x1="225.5" y1="80.8" x2="223" y2="80.8" stroke="#333" stroke-width="0.9" stroke-linecap="butt"/>
<line x1="51.5" y1="230.59" x2="53.1" y2="230.59" stroke="#333" stroke-width="0.9" stroke-linecap="butt"/>
<line x1="225.5" y1="230.59" x2="223.9" y2="230.59" stroke="#333" stroke-width="0.9" stroke-linecap="butt"/>
<line x1="51.5" y1="220.82" x2="53.1" y2="220.82" stroke="#333" stroke-width="0.9" stroke-linecap="butt"/>
<line x1="225.5" y1="220.82" x2="223.9" y2="220.82" stroke="#333" stroke-width="0.9" stroke-linecap="butt"/>
<line x1="51.5" y1="213.89" x2="53.1" y2="213.89" stroke="#333" stroke-width="0.9" stroke-linecap="butt"/>
<line x1="225.5" y1="213.89" x2="223.9" y2="213.89" stroke="#333" stroke-width="0.9" stroke-linecap="butt"/>
<line x1="51.5" y1="208.51" x2="53.1" y2="208.51" stroke="#333" stroke-width="0.9" stroke-linecap="butt"/>
<line x1="225.5" y1="208.51" x2="223.9" y2="208.51" stroke="#333" stroke-width="0.9" stroke-linecap="butt"/>
<line x1="51.5" y1="204.11" x2="53.1" y2="204.11" stroke="#333" stroke-width="0.9" stroke-linecap="butt"/>
<line x1="225.5" y1="204.11" x2="223.9" y2="204.11" stroke="#333" stroke-width="0.9" stroke-linecap="butt"/>
<line x1="51.5" y1="200.4" x2="53.1" y2="200.4" stroke="#333" stroke-width="0.9" stroke-linecap="butt"/>
<line x1="225.5" y1="200.4" x2="223.9" y2="200.4" stroke="#333" stroke-width="0.9" stroke-linecap="butt"/>
<line x1="51.5" y1="197.18" x2="53.1" y2="197.18" stroke="#333" stroke-width="0.9" stroke-linecap="butt"/>
<line x1="225.5" y1="197.18" x2="223.9" y2="197.18" stroke="#333" stroke-width="0.9" stroke-linecap="butt"/>
<line x1="51.5" y1="194.34" x2="53.1" y2="194.34" stroke="#333" stroke-width="0.9" stroke-linecap="butt"/>
<line x1="225.5" y1="194.34" x2="223.9" y2="194.34" stroke="#333" stroke-width="0.9" stroke-linecap="butt"/>
<line x1="51.5" y1="175.09" x2="53.1" y2="175.09" stroke="#333" stroke-width="0.9" stroke-linecap="butt"/>
<line x1="225.5" y1="175.09" x2="223.9" y2="175.09" stroke="#333" stroke-width="0.9" stroke-linecap="butt"/>
<line x1="51.5" y1="165.32" x2="53.1" y2="165.32" stroke="#333" stroke-width="0.9" stroke-linecap="butt"/>
<line x1="225.5" y1="165.32" x2="223.9" y2="165.32" stroke="#333" stroke-width="0.9" stroke-linecap="butt"/>
<line x1="51.5" y1="158.39" x2="53.1" y2="158.39" stroke="#333" stroke-width="0.9" stroke-linecap="butt"/>
<line x1="225.5" y1="158.39" x2="223.9" y2="158.39" stroke="#333" stroke-width="0.9" stroke-linecap="butt"/>
<line x1="51.5" y1="153.01" x2="53.1" y2="153.01" stroke="#333" stroke-width="0.9" stroke-linecap="butt"/>
<line x1="225.5" y1="153.01" x2="223.9" y2="153.01" stroke="#333" stroke-width="0.9" stroke-linecap="butt"/>
<line x1="51.5" y1="148.61" x2="53.1" y2="148.61" stroke="#333" stroke-width="0.9" stroke-linecap="butt"/>
<line x1="225.5" y1="148.61" x2="223.9" y2="148.61" stroke="#333" stroke-width="0.9" stroke-linecap="butt"/>
<line x1="51.5" y1="144.9" x2="53.1" y2="144.9" stroke="#333" stroke-width="0.9" stroke-linecap="butt"/>
<line x1="225.5" y1="144.9" x2="223.9" y2="144.9" stroke="#333" stroke-width="0.9" stroke-linecap="butt"/>
<line x1="51.5" y1="141.68" x2="53.1" y2="141.68" stroke="#333" stroke-width="0.9" stroke-linecap="butt"/>
<line x1="225.5" y1="141.68" x2="223.9" y2="141.68" stroke="#333" stroke-width="0.9" stroke-linecap="butt"/>
<line x1="51.5" y1="138.84" x2="53.1" y2="138.84" stroke="#333" stroke-width="0.9" stroke-linecap="butt"/>
<line x1="225.5" y1="138.84" x2="223.9" y2="138.84" stroke="#333" stroke-width="0.9" stroke-linecap="butt"/>
<line x1="51.5" y1="119.59" x2="53.1" y2="119.59" stroke="#333" stroke-width="0.9" stroke-linecap="butt"/>
<line x1="225.5" y1="119.59" x2="223.9" y2="119.59" stroke="#333" stroke-width="0.9" stroke-linecap="butt"/>
<line x1="51.5" y1="109.82" x2="53.1" y2="109.82" stroke="#333" stroke-width="0.9" stroke-linecap="butt"/>
<line x1="225.5" y1="109.82" x2="223.9" y2="109.82" stroke="#333" stroke-width="0.9" stroke-linecap="butt"/>
<line x1="51.5" y1="102.89" x2="53.1" y2="102.89" stroke="#333" stroke-width="0.9" stroke-linecap="butt"/>
<line x1="225.5" y1="102.89" x2="223.9" y2="102.89" stroke="#333" stroke-width="0.9" stroke-linecap="butt"/>
<line x1="51.5" y1="97.51" x2="53.1" y2="97.51" stroke="#333" stroke-width="0.9" stroke-linecap="butt"/>
<line x1="225.5" y1="97.51" x2="223.9" y2="97.51" stroke="#333" stroke-width="0.9" stroke-linecap="butt"/>
<line x1="51.5" y1="93.11" x2="53.1" y2="93.11" stroke="#333" stroke-width="0.9" stroke-linecap="butt"/>
<line x1="225.5" y1="93.11" x2="223.9" y2="93.11" stroke="#333" stroke-width="0.9" stroke-linecap="butt"/>
<line x1="51.5" y1="89.4" x2="53.1" y2="89.4" stroke="#333" stroke-width="0.9" stroke-linecap="butt"/>
<line x1="225.5" y1="89.4" x2="223.9" y2="89.4" stroke="#333" stroke-width="0.9" stroke-linecap="butt"/>
<line x1="51.5" y1="86.18" x2="53.1" y2="86.18" stroke="#333" stroke-width="0.9" stroke-linecap="butt"/>
<line x1="225.5" y1="86.18" x2="223.9" y2="86.18" stroke="#333" stroke-width="0.9" stroke-linecap="butt"/>
<line x1="51.5" y1="83.34" x2="53.1" y2="83.34" stroke="#333" stroke-width="0.9" stroke-linecap="butt"/>
<line x1="225.5" y1="83.34" x2="223.9" y2="83.34" stroke="#333" stroke-width="0.9" stroke-linecap="butt"/>
<line x1="51.5" y1="64.09" x2="53.1" y2="64.09" stroke="#333" stroke-width="0.9" stroke-linecap="butt"/>
<line x1="225.5" y1="64.09" x2="223.9" y2="64.09" stroke="#333" stroke-width="0.9" stroke-linecap="butt"/>
<line x1="51.5" y1="54.32" x2="53.1" y2="54.32" stroke="#333" stroke-width="0.9" stroke-linecap="butt"/>
<line x1="225.5" y1="54.32" x2="223.9" y2="54.32" stroke="#333" stroke-width="0.9" stroke-linecap="butt"/>
<line x1="51.5" y1="47.39" x2="53.1" y2="47.39" stroke="#333" stroke-width="0.9" stroke-linecap="butt"/>
<line x1="225.5" y1="47.39" x2="223.9" y2="47.39" stroke="#333" stroke-width="0.9" stroke-linecap="butt"/>
<line x1="51.5" y1="42.01" x2="53.1" y2="42.01" stroke="#333" stroke-width="0.9" stroke-linecap="butt"/>
<line x1="225.5" y1="42.01" x2="223.9" y2="42.01" stroke="#333" stroke-width="0.9" stroke-linecap="butt"/>
<clipPath id="cb"><rect x="291.3" y="42" width="174.0" height="205.3"/></clipPath>
<g clip-path="url(#cb)">
<path d="M290.95,84.45 L291.29,85.49 L291.64,85.64 L291.98,85.87 L292.32,86.54 L292.66,87.52 L293,87.13 L293.34,87.94 L293.68,88.93 L294.01,89.29 L294.34,89.58 L294.68,89.74 L295.01,90.12 L295.34,91.04 L295.67,91.89 L296,91.89 L296.33,93.15 L296.66,93.32 L296.98,93.63 L297.31,94.49 L297.64,94.45 L297.96,95.67 L298.28,95.55 L298.61,95.62 L298.93,97.29 L299.26,97.22 L299.58,98.22 L299.9,97.77 L300.23,98.39 L300.55,99.24 L300.87,100.24 L301.19,99.78 L301.52,100.83 L301.84,101.6 L302.16,101.66 L302.48,102.24 L302.81,103.33 L303.13,103.36 L303.46,104.05 L303.78,104.54 L304.11,105.31 L304.43,105.15 L304.76,105.9 L305.09,106.01 L305.41,106.66 L305.74,107.75 L306.07,108.42 L306.4,108.16 L306.73,109.18 L307.06,109.41 L307.4,110.1 L307.73,110.21 L308.07,110.69 L308.4,111.02 L308.74,111.87 L309.08,111.83 L309.42,113.29 L309.77,113.05 L310.11,114.01 L310.45,114.35 L310.8,114.65 L311.15,115.85 L311.5,116.23 L311.85,116.58 L312.2,116.33 L312.56,117.23 L312.92,117.94 L313.28,117.75 L313.64,118.95 L314,119.58 L314.37,120.22 L314.73,120.15 L315.1,120.06 L315.48,120.75 L315.85,121.94 L316.23,121.62 L316.6,122.66 L316.98,123.16 L317.37,123.37 L317.75,124.24 L318.14,123.91 L318.53,124.96 L318.92,125.13 L319.32,126.15 L319.72,126.05 L320.12,126.25 L320.52,126.88 L320.93,127.54 L321.34,127.45 L321.75,128.83 L322.16,129.01 L322.58,129.05 L323,129.81 L323.43,130.64 L323.85,130.65 L324.28,130.88 L324.71,131.56 L325.14,132.04 L325.58,132.38 L326.02,132.38 L326.46,132.65 L326.91,133.3 L327.36,133.79 L327.81,134.47 L328.26,134.37 L328.72,135.24 L329.18,135.16 L329.65,135.69 L330.13,136.11 L330.61,136.74 L331.1,137.09 L331.6,136.97 L332.11,137.36 L332.63,137.79 L333.17,137.97 L333.71,138.57 L334.28,138.61 L334.85,138.65 L335.43,138.93 L336.02,139.06 L336.62,139.21 L337.22,139.23 L337.82,138.96 L338.42,139.05 L339.01,139.05 L339.59,138.69 L340.17,138.63 L340.75,138.33 L341.32,138.08 L341.89,137.79 L342.45,137.53 L343.01,137.43 L343.57,137.23 L344.14,137.12 L344.7,136.96 L345.26,136.77 L345.83,136.61 L346.4,136.32 L346.98,136.12 L347.56,136.01 L348.14,135.91 L348.73,135.85 L349.32,135.43 L349.91,135.64 L350.51,135.22 L351.11,135.05 L351.7,135.39 L352.3,135.06 L352.91,135.33 L353.51,135.08 L354.11,135.08 L354.71,135.35 L355.31,135.32 L355.91,135.02 L356.51,135.52 L357.11,135.22 L357.7,135.53 L358.3,135.76 L358.89,135.82 L359.48,135.76 L360.07,136.12 L360.65,136.13 L361.23,136.07 L361.81,136.59 L362.39,136.57 L362.96,136.62 L363.53,136.88 L364.1,136.96 L364.66,137.36 L365.22,137.58 L365.77,137.61 L366.33,137.97 L366.87,138.15 L367.42,138.72 L367.96,138.63 L368.49,139.11 L369.03,139.41 L369.55,139.68 L370.08,139.86 L370.6,140.1 L371.11,140.29 L371.62,140.7 L372.13,141.33 L372.63,141.4 L373.13,141.86 L373.62,142.09 L374.11,142.32 L374.6,142.85 L375.08,143.5 L375.56,143.57 L376.03,143.91 L376.49,144.41 L376.96,144.69 L377.42,145.02 L377.87,145.48 L378.32,146.14 L378.77,146.17 L379.21,146.57 L379.64,147.3 L380.08,147.43 L380.5,147.83 L380.93,148.31 L381.35,149.06 L381.76,149.52 L382.17,149.96 L382.58,150.09 L382.99,150.83 L383.38,150.86 L383.78,151.53 L384.17,152.02 L384.56,152.43 L384.94,153.16 L385.32,153.51 L385.7,153.84 L386.07,154.44 L386.43,154.93 L386.8,155.09 L387.16,155.68 L387.51,156.17 L387.86,156.96 L388.21,157.41 L388.56,157.62 L388.89,158.46 L389.23,158.5 L389.56,159.14 L389.89,159.57 L390.22,160.24 L390.54,160.94 L390.86,161.39 L391.17,161.53 L391.48,162.15 L391.79,162.93 L392.09,163.2 L392.39,163.99 L392.69,164.42 L392.98,164.98 L393.27,165.52 L393.56,165.98 L393.84,166.31 L394.12,167.16 L394.39,167.57 L394.66,168.19 L394.93,168.38 L395.19,169 L395.45,169.73 L395.71,170.4 L395.96,170.72 L396.21,171.46 L396.46,171.64 L396.7,172.21 L396.94,173.08 L397.18,173.78 L397.42,174 L397.65,174.57 L397.88,175.12 L398.11,175.8 L398.33,176.26 L398.55,176.79 L398.78,177.63 L398.99,177.6 L399.21,178.88 L399.43,179.35 L399.64,180.14 L399.85,180.61 L400.06,181.14 L400.27,181.13 L400.48,182.29 L400.69,182.63 L400.89,182.86 L401.1,184.08 L401.3,184.18 L401.51,185.52 L401.71,185.69 L401.91,186.53 L402.12,187.16 L402.32,187.18 L402.52,188.33 L402.73,188.35 L402.93,188.75 L403.14,190.31 L403.34,190.27 L403.55,190.84 L403.75,192.08 L403.96,191.85 L404.17,190.95 L404.38,193.11 L404.59,193.56 L404.81,194.39 L405.02,195.61 L405.24,195.56 L405.46,196.84 L405.68,196.86 L405.91,197.99 L406.13,196.98 L406.36,196.96 L406.59,198.44 L406.82,200.05 L407.06,200.54 L407.3,200.5 L407.54,200.16 L407.79,200.26 L408.04,199.92 L408.29,201.83 L408.55,202.69 L408.81,205.02 L409.07,204.02 L409.34,204.6 L409.61,204.7 L409.88,203.4 L410.16,205.03 L410.45,207.08 L410.73,207.81 L411.03,209.33 L411.32,207.93 L411.62,209.3 L411.93,210.27 L412.24,210.62 L412.55,208.54 L412.87,212.19 L413.2,212.13 L413.52,212.29 L413.86,210.64 L414.2,214.41 L414.54,213.83 L414.89,212.31 L415.24,214.42 L415.6,213.11 L415.96,213.21 L416.33,216.38 L416.7,216.95 L417.08,216.51 L417.47,215.47 L417.87,216.65 L418.28,216.18 L418.69,217.12 L419.12,216.88 L419.55,219.74 L420.01,220.61 L420.47,219.93 L420.95,220.87 L421.44,219.12 L421.96,222.54 L422.49,221.54 L423.04,219.86 L423.6,221.74 L424.18,221.6 L424.78,223.36 L425.37,222.91 L425.98,220.23 L426.57,222.39 L427.16,219.82 L427.73,221.45 L428.29,222.62 L428.83,219.72 L429.36,221.3 L429.87,220.01 L430.36,218.47 L430.85,221.27 L431.31,220.21 L431.77,217.96 L432.21,217.28 L432.64,217.5 L433.05,218.53 L433.47,218.91 L433.86,216.82 L434.25,214.26 L434.62,213.83 L434.99,214.3 L435.34,216.02 L435.69,213.01 L436.03,214.19 L436.36,211.44 L436.69,212.14 L437,213.01 L437.3,212.57 L437.6,209.33 L437.89,209.45 L438.18,209.16 L438.45,208.74 L438.72,208.63 L438.97,209.74 L439.22,206.59 L439.47,206.53 L439.7,206.93 L439.93,207.44 L440.15,206.84 L440.37,203.91 L440.57,204.87 L440.78,204.7 L440.98,203.38 L441.17,204.28 L441.36,201.1 L441.54,202.1 L441.72,202.07 L441.89,202.42 L442.07,198.47 L442.24,200.36 L442.4,198.46 L442.57,199.28 L442.74,197.95 L442.9,198.23 L443.06,195.55 L443.23,197.53 L443.39,195.16 L443.56,195.99 L443.73,193.69 L443.9,192.58 L444.08,192.71 L444.26,193.24 L444.45,193.49 L444.64,191.51 L444.84,190.4 L445.04,191.81 L445.26,190.61 L445.48,189.11 L445.72,189.21 L445.97,187.37 L446.23,187.62 L446.51,186.78 L446.8,185.79 L447.11,184.83 L447.44,184.76 L447.79,185.89 L448.15,185.28 L448.54,183.96 L448.95,184.63 L449.38,182.44 L449.83,183.39 L450.31,183.05 L450.8,181.28 L451.34,182.56 L451.89,182.12 L452.48,181.5 L453.08,181.6 L453.65,181.9 L454.19,181.99 L454.68,181.61 L455.16,182.62 L455.57,183.79 L455.99,183.67 L456.36,183.67 L456.72,185.2 L457.05,184.96 L457.37,185.13 L457.67,186.23 L457.96,186.2 L458.22,187.32 L458.48,187.92 L458.71,187.91 L458.94,188.61 L459.15,189.48 L459.36,189.66 L459.54,190.84 L459.73,191.32 L459.9,191.37 L460.06,192.33 L460.21,192.9 L460.36,193.31 L460.5,194.13 L460.63,194.54 L460.76,195.14 L460.88,195.69 L460.99,196.41 L461.11,196.61 L461.21,197.61 L461.32,197.89 L461.42,198.56 L461.52,199.51 L461.61,199.76 L461.7,200.58 L461.79,200.97 L461.88,201.96 L461.97,202.54 L462.06,202.8 L462.15,203.69 L462.23,204.28 L462.32,204.53 L462.41,205.21 L462.5,205.71 L462.6,206.32 L462.7,207.06 L462.8,207.64 L462.9,208.21 L463.01,208.68 L463.13,209.43 L463.25,210.23 L463.38,210.52 L463.52,211.27 L463.67,211.63 L463.83,212.47 L464.01,212.95 L464.2,213.69 L464.42,213.83 L464.65,214.68 L464.92,215.1 L465.2,215.61 L465.49,216.12 L465.77,216.93 L466.04,217.15 L466.28,217.88 L466.48,218.15 L466.66,219.19 L466.79,219.7 L466.91,220.23 L466.98,220.74 L467.05,221.26 L467.07,221.9 L467.09,222.61 L467.1,223.14 L467.08,223.93 L467.05,224.25 L467.03,225.12" fill="none" stroke="#707070" stroke-width="1.4" stroke-linejoin="round" />
<path d="M405.02,195.35 L405.24,195.09 L405.46,196.33 L405.68,196.53 L405.91,198.59 L406.13,197.42 L406.36,197.31 L406.59,198.14 L406.82,199.61 L407.06,200.32 L407.3,200.77 L407.54,199.6 L407.79,200.31 L408.04,199.69 L408.29,202.3 L408.55,202.95 L408.81,204.36 L409.07,203.65 L409.34,205.2 L409.61,205.47 L409.88,203.42 L410.16,205.7 L410.45,206.48 L410.73,207.62 L411.03,209.63 L411.32,206.97 L411.62,209.36 L411.93,210.99 L412.24,210.03 L412.55,207.54 L412.87,212.49 L413.2,212.46 L413.52,211.77 L413.86,210.28 L414.2,214.09 L414.54,212.97 L414.89,212.81 L415.24,213.83 L415.6,213.67 L415.96,213.52 L416.33,215.57 L416.7,217.46 L417.08,215.78 L417.47,215.79 L417.87,215.78 L418.28,216.34 L418.69,217 L419.12,216.93 L419.55,220.25 L420.01,221.1 L420.47,219 L420.95,220.18 L421.44,220.11 L421.96,222.42 L422.49,222.2 L423.04,219.97 L423.6,222.3 L424.18,220.72 L424.78,223.37 L425.37,223.43 L425.98,220.05 L426.57,222.83 L427.16,220.5 L427.73,222.1 L428.29,222.02 L428.83,220.55 L429.36,221.47 L429.87,219.36 L430.36,219.07 L430.85,220.77 L431.31,219.86 L431.77,217.79 L432.21,217.29 L432.64,216.83 L433.05,219.25 L433.47,219.57 L433.86,216.42 L434.25,215.22 L434.62,212.92 L434.99,213.52 L435.34,216.57 L435.69,212.48 L436.03,213.59 L436.36,210.46 L436.69,211.79 L437,212.14 L437.3,212.86 L437.6,208.32 L437.89,209.32 L438.18,209.94 L438.45,208.87 L438.72,208.29 L438.97,208.98 L439.22,207.45 L439.47,205.64 L439.7,206.93 L439.93,207.2 L440.15,207.32 L440.37,204.07 L440.57,205.64 L440.78,205.5 L440.98,203.78 L441.17,204.24 L441.36,201.16 L441.54,202.84 L441.72,202.48 L441.89,202.85 L442.07,199.23 L442.24,200.14 L442.4,199.03 L442.57,199.71 L442.74,197.75 L442.9,198.67 L443.06,194.88 L443.23,196.71 L443.39,195.79 L443.56,196.8 L443.73,193.57 L443.9,192.4 L444.08,192.25 L444.26,193.97 L444.45,193.09 L444.64,191.75 L444.84,190.92 L445.04,191.73 L445.26,191.37 L445.48,188.89 L445.72,189.66 L445.97,186.91 L446.23,187.59 L446.51,187.09 L446.8,185.41 L447.11,185.33 L447.44,185.39 L447.79,185.59 L448.15,185.27 L448.54,183.33 L448.95,184.51 L449.38,182.56 L449.83,183.01 L450.31,183.56 L450.8,180.95 L451.34,182.56 L451.89,181.7 L452.48,181.32 L453.08,181.86 L453.65,181.82 L454.19,182.3 L454.68,181.88 L455.16,182.57 L455.57,183.5 L455.99,183.93 L456.36,184.01 L456.72,185" fill="none" stroke="#707070" stroke-width="2.6" stroke-linejoin="round" stroke-linecap="round"/>
<path d="M291.18,84.09 L291.45,85.4 L291.72,85.7 L292,85.88 L292.28,86.33 L292.57,87.18 L292.86,88.13 L293.16,87.9 L293.46,88.98 L293.76,89.02 L294.07,89.88 L294.38,90.25 L294.7,90.88 L295.01,90.96 L295.34,92.2 L295.66,92.83 L295.99,92.84 L296.32,93.25 L296.65,94.14 L296.99,94.02 L297.32,94.42 L297.66,95.56 L298,95.89 L298.35,96.47 L298.69,96.36 L299.03,97.69 L299.38,97.98 L299.73,97.92 L300.08,98.96 L300.43,99.77 L300.77,99.54 L301.12,100.71 L301.47,101.22 L301.82,101.59 L302.17,101.73 L302.52,102.17 L302.87,102.58 L303.21,103.5 L303.56,103.35 L303.91,104.23 L304.25,104.74 L304.59,105.62 L304.93,106.09 L305.27,106.16 L305.61,106.77 L305.94,107.38 L306.28,107.72 L306.61,107.96 L306.94,108.34 L307.27,109.25 L307.59,109.63 L307.92,109.97 L308.25,110.55 L308.58,110.75 L308.9,111.77 L309.23,111.79 L309.56,112.33 L309.89,113.5 L310.22,113.34 L310.55,114.43 L310.88,114.72 L311.22,114.97 L311.55,115.8 L311.89,116.25 L312.24,117.13 L312.58,117.68 L312.93,117.67 L313.28,118.06 L313.63,118.77 L313.99,118.78 L314.35,119.67 L314.72,119.72 L315.09,120.37 L315.47,121.32 L315.85,121.8 L316.23,121.97 L316.63,122.91 L317.02,122.55 L317.43,123.16 L317.84,123.88 L318.25,124.17 L318.67,124.8 L319.1,124.66 L319.54,125.71 L319.98,125.56 L320.43,126.07 L320.89,126.37 L321.35,127.29 L321.82,126.98 L322.3,128.28 L322.79,128.05 L323.28,128.27 L323.78,128.7 L324.28,129.17 L324.79,129.28 L325.31,129.99 L325.84,130.27 L326.37,130.46 L326.91,130.9 L327.45,131.03 L328,130.96 L328.55,131.26 L329.11,131.59 L329.68,131.73 L330.25,131.96 L330.82,132.17 L331.4,132.46 L331.98,132.51 L332.57,132.76 L333.16,132.78 L333.75,132.65 L334.35,133.12 L334.95,132.86 L335.55,133.01 L336.15,132.9 L336.75,133.11 L337.35,133.18 L337.95,133 L338.55,133.23 L339.15,132.86 L339.75,133.13 L340.35,132.98 L340.94,132.64 L341.53,132.52 L342.13,132.4 L342.72,132.49 L343.31,132.24 L343.9,132.4 L344.48,131.93 L345.07,132.08 L345.66,131.77 L346.25,131.5 L346.83,131.66 L347.42,131.48 L348.01,131.21 L348.6,131.15 L349.2,130.96 L349.79,130.86 L350.39,130.95 L350.98,130.86 L351.58,130.66 L352.18,130.65 L352.78,130.89 L353.38,130.61 L353.98,130.65 L354.58,130.52 L355.19,130.48 L355.79,130.74 L356.39,130.63 L356.99,130.88 L357.59,130.74 L358.18,130.87 L358.78,131.07 L359.37,131.19 L359.96,131.16 L360.55,131.44 L361.14,131.51 L361.72,131.75 L362.3,131.89 L362.88,132.08 L363.46,132.03 L364.03,132.15 L364.6,132.31 L365.16,132.65 L365.72,132.9 L366.28,133.07 L366.84,133.26 L367.38,133.61 L367.93,133.81 L368.47,133.96 L369.01,134.55 L369.54,134.71 L370.07,134.85 L370.6,135.21 L371.12,135.61 L371.64,135.73 L372.15,136.21 L372.66,136.62 L373.16,136.72 L373.66,137.2 L374.15,137.7 L374.64,137.97 L375.12,138.23 L375.6,138.42 L376.08,139.15 L376.55,139.55 L377.01,139.85 L377.47,140.02 L377.93,140.55 L378.38,141.04 L378.82,141.34 L379.26,141.92 L379.7,142.19 L380.12,142.38 L380.55,142.92 L380.97,143.63 L381.38,144.06 L381.79,144.48" fill="none" stroke="#707070" stroke-width="1.3" stroke-dasharray="2.8,3.2" stroke-linejoin="round" />
<path d="M381.79,144.48 L382.2,144.83 L382.59,145.25 L382.99,145.56 L383.38,146.26 L383.76,146.47 L384.14,147.15 L384.52,147.42 L384.89,148.17 L385.26,148.29 L385.63,148.79 L385.99,149.58 L386.34,149.77 L386.7,150.43 L387.05,150.83 L387.4,151.41 L387.74,151.92 L388.08,152.35 L388.42,152.86 L388.76,153.46 L389.09,153.74 L389.42,154.44 L389.75,154.68 L390.08,155.49 L390.4,155.84 L390.73,156.46 L391.05,156.75 L391.37,157.59 L391.69,158.08 L392.01,158.57 L392.33,159.06 L392.65,159.54 L392.97,159.76 L393.28,160.45 L393.6,160.86 L393.92,161.32 L394.24,162.08 L394.55,162.71 L394.87,163.21 L395.19,163.48 L395.51,163.92 L395.83,164.6 L396.16,164.88 L396.48,165.73 L396.8,166.28 L397.13,166.64 L397.46,167.31 L397.79,167.4 L398.12,168.33 L398.45,168.46 L398.79,169.09 L399.13,169.88 L399.47,170.08 L399.82,170.8 L400.16,170.83 L400.51,171.18 L400.87,172.41 L401.22,172.89 L401.58,173.26 L401.95,173.48 L402.31,173.7 L402.69,173.98 L403.06,175.27 L403.44,175.79 L403.82,175.56 L404.21,176.47 L404.6,176.76 L404.99,177.2 L405.39,177.64 L405.8,178.12 L406.21,178 L406.62,178.63 L407.04,179.07 L407.46,179.71 L407.89,180.11 L408.32,181.36 L408.76,181.69 L409.2,181.78 L409.65,181.72 L410.1,182.39 L410.57,182.66 L411.03,182.89 L411.5,183.94 L411.98,184.19 L412.47,184.46 L412.96,184.33 L413.46,184.71 L413.96,184.98 L414.48,185.75 L414.99,186.12 L415.52,186.51 L416.05,186.45 L416.6,186.34 L417.14,187.29 L417.7,187.28 L418.26,187.97 L418.83,187.34 L419.4,187.22 L419.98,188.33 L420.57,187.29 L421.16,187.63 L421.76,188.34 L422.35,188.52 L422.95,187.94 L423.56,187.65 L424.16,188.36 L424.76,188.63 L425.35,188.87 L425.95,187.82 L426.54,187.7 L427.12,188.11 L427.7,188.07 L428.27,187.18 L428.84,186.73 L429.4,186.69 L429.95,186.45 L430.48,186.55 L431.02,185.82 L431.54,185.35 L432.05,186.29 L432.55,185.45 L433.04,184.28 L433.52,184.89 L434,183.78 L434.45,183.68 L434.91,183.51 L435.35,183.36 L435.79,183.27 L436.22,181.84 L436.64,181.12 L437.05,180.91 L437.46,180.64 L437.86,180.04 L438.25,179.87 L438.64,179.42 L439.02,179.68 L439.4,179.21 L439.77,178.02 L440.14,177.44 L440.5,177.69 L440.86,176.95 L441.22,176.73 L441.57,175.59 L441.92,174.54 L442.26,174.44 L442.61,173.81 L442.95,173.9 L443.29,173.36 L443.64,172.2 L443.98,172.67 L444.32,172.01 L444.67,171.14 L445.02,170.68 L445.38,170.24 L445.73,170.05 L446.1,169.31 L446.47,169.37 L446.86,168.55 L447.25,167.76 L447.66,167.82 L448.07,167.15 L448.52,166.3 L448.98,166.45 L449.47,166.33 L449.99,165.58 L450.54,165.45 L451.11,164.8 L451.71,164.72 L452.31,164.94 L452.9,165.6 L453.47,165.13 L454.02,165.55 L454.53,166.1 L455.03,166.58 L455.49,166.98 L455.94,167.19 L456.37,167.29 L456.78,167.94 L457.19,168.6 L457.57,168.79 L457.95,169.14 L458.31,169.99 L458.67,170.46 L459.02,170.89 L459.36,171.16 L459.69,171.88 L460.02,172.15 L460.34,172.71 L460.65,173.13 L460.97,173.72 L461.27,174.51 L461.57,174.98 L461.87,175.47 L462.16,175.97 L462.45,176.34 L462.73,176.82 L463.02,177.42 L463.3,178.19 L463.57,178.59 L463.85,178.95 L464.12,179.57 L464.39,180.17 L464.66,180.6 L464.93,181.11 L465.19,181.8 L465.46,182.5 L465.72,182.78 L465.99,183.4 L466.25,184.09 L466.52,184.54 L466.78,185.1" fill="none" stroke="#707070" stroke-width="1.3" stroke-dasharray="2.1,1.7" stroke-linejoin="round" />
<path d="M298.43,41.62 L298.76,42.19 L299.09,42.23 L299.42,43.05 L299.75,43.26 L300.07,43.82 L300.4,44.26 L300.72,44.85 L301.04,45.78 L301.35,45.87 L301.67,46.29 L301.98,46.94 L302.3,47.77 L302.61,48.14 L302.92,48.66 L303.24,49.25 L303.55,49.56 L303.86,50.36 L304.17,50.69 L304.49,51.1 L304.8,51.59 L305.11,52.53 L305.43,52.93 L305.74,53.31 L306.06,53.79 L306.38,54.36 L306.69,54.52 L307.02,55.07 L307.34,55.92 L307.66,56.44 L307.99,57.08 L308.32,57.42 L308.65,58 L308.98,58.4 L309.32,58.8 L309.65,59.33 L310,60.12 L310.34,60.61 L310.69,61.07 L311.04,61.37 L311.39,61.64 L311.75,62.05 L312.12,63.03 L312.48,63.02 L312.85,63.65 L313.23,64.39 L313.61,64.5 L314,65.32 L314.38,65.44 L314.78,66.22 L315.18,66.63 L315.58,66.82 L315.99,67.3 L316.41,67.75 L316.83,68.31 L317.25,68.93 L317.68,69.14 L318.12,69.47 L318.57,69.87 L319.02,70.14 L319.47,70.83 L319.93,71.11 L320.4,71.74 L320.87,71.88 L321.35,72.51 L321.84,72.56 L322.33,72.96 L322.82,73.1 L323.33,73.8 L323.84,73.66 L324.35,74.07 L324.87,74.45 L325.39,75.07 L325.92,75.22 L326.45,75.32 L326.99,75.95 L327.54,76.16 L328.09,75.93 L328.64,76.3 L329.19,76.8 L329.75,77.13 L330.32,77.27 L330.89,77.55 L331.46,77.29 L332.03,77.4 L332.61,77.83 L333.19,77.76 L333.78,78.27 L334.36,78.56 L334.95,78.39 L335.54,78.6 L336.14,78.59 L336.73,78.54 L337.33,78.6 L337.93,79.03 L338.53,79.21 L339.13,78.94 L339.73,78.86 L340.33,79.32 L340.93,79.03 L341.53,79.37 L342.13,79.35 L342.73,79.18 L343.34,79.35 L343.94,79.31 L344.54,79.22 L345.14,79.34 L345.74,79.61 L346.34,79.81 L346.93,79.47 L347.53,79.63 L348.12,79.62 L348.71,80.32 L349.3,79.93 L349.89,80.24 L350.46,80.21 L351.04,80.66 L351.61,80.94 L352.17,81.09 L352.73,81.42 L353.28,81.39 L353.82,82.07 L354.35,82.25 L354.88,82.19 L355.41,82.65 L355.93,82.7 L356.44,83.5 L356.95,83.86 L357.45,83.97 L357.95,84.21 L358.44,84.82 L358.93,84.91 L359.42,85.08 L359.9,85.81 L360.38,86.02 L360.86,86.74 L361.33,86.82 L361.81,86.96 L362.28,87.74 L362.75,88.22 L363.21,88.1 L363.68,88.6 L364.15,89.08 L364.61,89.6 L365.07,89.98 L365.53,90.33 L365.99,90.86 L366.45,91.17 L366.91,91.14 L367.36,92.1 L367.82,92.41 L368.27,92.71 L368.73,93.18 L369.18,93.6 L369.63,93.53 L370.08,94.28 L370.53,94.39 L370.99,94.86 L371.44,95.6 L371.89,95.83 L372.34,96.09 L372.79,96.42 L373.24,97 L373.69,97.17 L374.14,97.74 L374.59,98.43 L375.04,98.53 L375.49,99.02 L375.94,99.68 L376.39,99.73 L376.84,100.08 L377.3,100.56 L377.75,100.94 L378.2,101.68 L378.66,101.5 L379.12,101.98 L379.57,102.75 L380.03,102.67 L380.49,103.32 L380.95,103.87 L381.41,103.87 L381.88,104.41 L382.34,104.77 L382.81,105.29 L383.28,105.74 L383.75,106.2 L384.22,106.18 L384.69,106.64 L385.17,107.32 L385.64,107.76 L386.12,107.8 L386.6,108 L387.08,108.41 L387.57,109.16 L388.06,109.12 L388.55,109.52 L389.05,109.84 L389.55,110.31 L390.06,110.77 L390.57,110.78 L391.09,111.29 L391.61,111.86 L392.15,111.88 L392.69,112.15 L393.23,112.54 L393.79,112.68 L394.35,112.82 L394.92,113.27 L395.5,113.01 L396.08,113.21 L396.67,113.79 L397.26,113.46 L397.86,113.4 L398.47,113.5 L399.07,113.96 L399.67,113.48 L400.27,113.63 L400.87,113.67 L401.46,113.13 L402.04,113.13 L402.62,113.24 L403.19,112.76 L403.75,112.59 L404.3,112.46 L404.85,112.35 L405.38,111.78 L405.91,111.4 L406.42,111 L406.94,110.84 L407.44,110.74 L407.94,110.55 L408.43,109.96 L408.92,109.39 L409.4,109.32 L409.89,108.64 L410.36,108.29 L410.84,107.93 L411.31,108.03 L411.78,107.47 L412.26,106.73 L412.73,106.9 L413.2,106.2 L413.67,105.69 L414.14,105.62 L414.61,105.15 L415.09,104.85 L415.57,104.37 L416.05,103.88 L416.54,103.39 L417.03,103.44 L417.52,102.98 L418.02,102.62 L418.53,102.4 L419.04,102.01 L419.56,101.95 L420.08,101.55 L420.61,101.38 L421.16,100.7 L421.7,100.68 L422.26,100.62 L422.82,100.33 L423.4,99.91 L423.98,99.96 L424.57,99.74 L425.16,99.45 L425.76,99.67 L426.36,99.26 L426.96,99.3 L427.55,99.45 L428.14,99.57 L428.7,100.23 L429.24,100.1 L429.75,100.87 L430.23,100.68 L430.69,101.08 L431.11,101.72 L431.52,102.28 L431.9,102.76 L432.26,102.93 L432.6,103.68 L432.93,103.97 L433.24,104.53 L433.54,105.05 L433.82,105.6 L434.1,106.49 L434.36,107 L434.62,107.15 L434.87,108.02 L435.12,108.29 L435.36,108.72 L435.6,109.3 L435.83,110.27 L436.06,110.78 L436.28,111.25 L436.51,111.57 L436.72,112.54 L436.94,112.93 L437.15,113.53 L437.36,114.24 L437.57,114.5 L437.78,115.07 L437.98,115.51 L438.18,116.22 L438.38,117.08 L438.57,117.53 L438.76,117.89 L438.95,118.47 L439.14,119.27 L439.32,119.96 L439.5,120.27 L439.68,120.6 L439.86,121.74 L440.03,122.28 L440.2,122.71 L440.37,122.93 L440.54,123.76 L440.71,124.24 L440.88,124.7 L441.04,125.47 L441.2,126.11 L441.36,126.69 L441.52,127.14 L441.68,127.7 L441.83,128.62 L441.99,128.78 L442.14,129.62 L442.29,130.22 L442.44,130.57 L442.59,131.06 L442.74,131.94 L442.89,132.54 L443.04,132.9 L443.18,133.39 L443.33,134.29 L443.48,134.57 L443.62,135.39 L443.77,136.19 L443.91,136.82 L444.06,137.25 L444.2,137.85 L444.35,138.15 L444.49,138.96 L444.64,139.38 L444.78,140.32 L444.93,140.64 L445.08,141.37 L445.22,142.03 L445.37,142.42 L445.52,143.31 L445.67,143.65 L445.82,144.08 L445.97,145.01 L446.12,145.48 L446.28,145.67 L446.43,146.4 L446.59,147.28 L446.75,147.81 L446.91,148.28 L447.07,149.14 L447.23,149.36 L447.39,150.15 L447.56,150.52 L447.73,151.05 L447.9,151.6 L448.07,152.1 L448.24,152.7 L448.42,153.31 L448.6,153.96 L448.78,154.93 L448.96,155.02 L449.14,155.77 L449.33,156.19 L449.52,156.9 L449.7,157.24 L449.89,157.96 L450.08,158.52 L450.27,159.26 L450.46,159.52 L450.65,160.38 L450.84,160.71 L451.03,161.75 L451.22,162.05 L451.41,162.83 L451.6,163.44 L451.78,163.71 L451.97,164.57 L452.15,164.99 L452.33,165.73 L452.51,166.29 L452.69,166.48 L452.87,167.36 L453.04,167.79 L453.21,168.14 L453.38,168.84 L453.54,169.41 L453.71,170.19 L453.86,170.66 L454.02,171.13 L454.17,172.08 L454.31,172.29 L454.45,173.23 L454.59,173.79 L454.72,174.06 L454.85,174.96 L454.97,175.55 L455.09,176.13 L455.19,176.9 L455.3,177.47 L455.4,177.78 L455.49,178.29 L455.57,178.77 L455.65,179.49 L455.72,180.29 L455.78,181 L455.84,181.19 L455.89,182.01" fill="none" stroke="#38bdf5" stroke-width="1.6" stroke-linejoin="round" />
<path d="M303.77,41.49 L304.33,42.47 L304.91,43.47 L305.51,44.47 L306.13,45.47 L306.77,46.49 L307.42,47.5 L308.1,48.52 L308.8,49.53 L309.51,50.54 L310.24,51.54 L310.99,52.53 L311.77,53.51 L312.56,54.47 L313.37,55.42 L314.19,56.35 L315.04,57.26 L315.91,58.15 L316.8,59.01 L317.7,59.84 L318.63,60.64 L319.57,61.41 L320.53,62.15 L321.51,62.85 L322.52,63.51 L323.54,64.13 L324.58,64.7 L325.64,65.23 L326.72,65.71 L327.81,66.14 L328.93,66.52 L330.07,66.84 L331.23,67.1 L332.4,67.31 L333.6,67.45 L334.81,67.54 L336.03,67.59 L337.27,67.6 L338.51,67.59 L339.75,67.57 L341,67.54 L342.25,67.51 L343.48,67.5 L344.71,67.52 L345.93,67.57 L347.14,67.66 L348.32,67.81 L349.49,68.02 L350.63,68.31 L351.74,68.67 L352.83,69.12 L353.89,69.62 L354.94,70.19 L355.97,70.79 L356.98,71.44 L357.99,72.11 L358.98,72.79 L359.97,73.49 L360.95,74.2 L361.92,74.92 L362.88,75.65 L363.83,76.4 L364.76,77.17 L365.69,77.95 L366.6,78.75 L367.49,79.57 L368.38,80.4 L369.26,81.24 L370.13,82.09 L370.99,82.95 L371.85,83.81 L372.71,84.68 L373.57,85.55 L374.42,86.42 L375.28,87.29 L376.14,88.15 L377.01,89 L377.88,89.85 L378.76,90.68 L379.65,91.51 L380.55,92.32 L381.46,93.11 L382.38,93.88 L383.33,94.63 L384.29,95.36 L385.26,96.07 L386.26,96.75 L387.28,97.4 L388.32,98.02 L389.39,98.6 L390.48,99.15 L391.59,99.64 L392.71,100.05 L393.83,100.38 L394.96,100.61 L396.09,100.73 L397.2,100.72 L398.31,100.58 L399.41,100.34 L400.5,100 L401.59,99.57 L402.67,99.07 L403.75,98.51 L404.82,97.91 L405.89,97.26 L406.96,96.6 L408.02,95.92 L409.09,95.23 L410.16,94.54 L411.23,93.85 L412.3,93.18 L413.38,92.51 L414.47,91.86 L415.57,91.23 L416.68,90.62 L417.8,90.05 L418.93,89.51 L420.08,89.01 L421.24,88.56 L422.41,88.16 L423.58,87.84 L424.74,87.61 L425.86,87.49 L426.94,87.5 L427.97,87.66 L428.93,87.97 L429.84,88.43 L430.69,89.01 L431.48,89.71 L432.22,90.52 L432.92,91.42 L433.58,92.4 L434.19,93.45 L434.77,94.56 L435.31,95.7 L435.82,96.88 L436.31,98.08 L436.77,99.28 L437.21,100.48 L437.63,101.67 L438.03,102.86 L438.42,104.05 L438.79,105.23 L439.14,106.41 L439.48,107.59 L439.81,108.76 L440.13,109.93 L440.44,111.1 L440.73,112.27 L441.02,113.43 L441.31,114.59 L441.59,115.75 L441.86,116.91 L442.14,118.07 L442.41,119.22 L442.68,120.38 L442.95,121.53 L443.23,122.69 L443.51,123.84 L443.79,125 L444.08,126.15 L444.38,127.31 L444.68,128.46 L445,129.62 L445.32,130.78 L445.66,131.93 L446,133.09 L446.34,134.25 L446.69,135.41 L447.05,136.58 L447.41,137.74 L447.77,138.9 L448.13,140.06 L448.49,141.23 L448.85,142.39 L449.2,143.55 L449.56,144.72 L449.9,145.88 L450.25,147.04 L450.58,148.21 L450.91,149.37 L451.23,150.53 L451.55,151.7 L451.86,152.86 L452.17,154.02 L452.47,155.19 L452.77,156.35 L453.07,157.51 L453.37,158.68 L453.67,159.84 L453.97,161.01 L454.27,162.17 L454.57,163.34 L454.88,164.5 L455.18,165.67 L455.5,166.83 L455.81,168 L456.14,169.17 L456.46,170.33 L456.8,171.5" fill="none" stroke="#38bdf5" stroke-width="1.6" stroke-dasharray="3.4,3.3" stroke-linecap="butt" stroke-linejoin="round" />
</g>
<path d="M290.93,42.5 H466.07 M290.93,247.5 H466.07" stroke="#3c3c3c" stroke-width="1.15" fill="none"/>
<path d="M291.5,41.92 V248.07 M465.5,41.92 V248.07" stroke="#3c3c3c" stroke-width="1.15" fill="none"/>
<line x1="291.3" y1="247.5" x2="291.3" y2="245" stroke="#333" stroke-width="0.9" stroke-linecap="butt"/>
<line x1="291.3" y1="42.5" x2="291.3" y2="45" stroke="#333" stroke-width="0.9" stroke-linecap="butt"/>
<line x1="409.1" y1="247.5" x2="409.1" y2="245" stroke="#333" stroke-width="0.9" stroke-linecap="butt"/>
<line x1="409.1" y1="42.5" x2="409.1" y2="45" stroke="#333" stroke-width="0.9" stroke-linecap="butt"/>
<line x1="326.76" y1="247.5" x2="326.76" y2="245.9" stroke="#333" stroke-width="0.9" stroke-linecap="butt"/>
<line x1="326.76" y1="42.5" x2="326.76" y2="44.1" stroke="#333" stroke-width="0.9" stroke-linecap="butt"/>
<line x1="347.5" y1="247.5" x2="347.5" y2="245.9" stroke="#333" stroke-width="0.9" stroke-linecap="butt"/>
<line x1="347.5" y1="42.5" x2="347.5" y2="44.1" stroke="#333" stroke-width="0.9" stroke-linecap="butt"/>
<line x1="362.22" y1="247.5" x2="362.22" y2="245.9" stroke="#333" stroke-width="0.9" stroke-linecap="butt"/>
<line x1="362.22" y1="42.5" x2="362.22" y2="44.1" stroke="#333" stroke-width="0.9" stroke-linecap="butt"/>
<line x1="373.64" y1="247.5" x2="373.64" y2="245.9" stroke="#333" stroke-width="0.9" stroke-linecap="butt"/>
<line x1="373.64" y1="42.5" x2="373.64" y2="44.1" stroke="#333" stroke-width="0.9" stroke-linecap="butt"/>
<line x1="382.96" y1="247.5" x2="382.96" y2="245.9" stroke="#333" stroke-width="0.9" stroke-linecap="butt"/>
<line x1="382.96" y1="42.5" x2="382.96" y2="44.1" stroke="#333" stroke-width="0.9" stroke-linecap="butt"/>
<line x1="390.85" y1="247.5" x2="390.85" y2="245.9" stroke="#333" stroke-width="0.9" stroke-linecap="butt"/>
<line x1="390.85" y1="42.5" x2="390.85" y2="44.1" stroke="#333" stroke-width="0.9" stroke-linecap="butt"/>
<line x1="397.68" y1="247.5" x2="397.68" y2="245.9" stroke="#333" stroke-width="0.9" stroke-linecap="butt"/>
<line x1="397.68" y1="42.5" x2="397.68" y2="44.1" stroke="#333" stroke-width="0.9" stroke-linecap="butt"/>
<line x1="403.71" y1="247.5" x2="403.71" y2="245.9" stroke="#333" stroke-width="0.9" stroke-linecap="butt"/>
<line x1="403.71" y1="42.5" x2="403.71" y2="44.1" stroke="#333" stroke-width="0.9" stroke-linecap="butt"/>
<line x1="444.56" y1="247.5" x2="444.56" y2="245.9" stroke="#333" stroke-width="0.9" stroke-linecap="butt"/>
<line x1="444.56" y1="42.5" x2="444.56" y2="44.1" stroke="#333" stroke-width="0.9" stroke-linecap="butt"/>
<line x1="465.3" y1="247.5" x2="465.3" y2="245.9" stroke="#333" stroke-width="0.9" stroke-linecap="butt"/>
<line x1="465.3" y1="42.5" x2="465.3" y2="44.1" stroke="#333" stroke-width="0.9" stroke-linecap="butt"/>
<line x1="291.5" y1="247.3" x2="294" y2="247.3" stroke="#333" stroke-width="0.9" stroke-linecap="butt"/>
<line x1="465.5" y1="247.3" x2="463" y2="247.3" stroke="#333" stroke-width="0.9" stroke-linecap="butt"/>
<line x1="291.5" y1="191.8" x2="294" y2="191.8" stroke="#333" stroke-width="0.9" stroke-linecap="butt"/>
<line x1="465.5" y1="191.8" x2="463" y2="191.8" stroke="#333" stroke-width="0.9" stroke-linecap="butt"/>
<line x1="291.5" y1="136.3" x2="294" y2="136.3" stroke="#333" stroke-width="0.9" stroke-linecap="butt"/>
<line x1="465.5" y1="136.3" x2="463" y2="136.3" stroke="#333" stroke-width="0.9" stroke-linecap="butt"/>
<line x1="291.5" y1="80.8" x2="294" y2="80.8" stroke="#333" stroke-width="0.9" stroke-linecap="butt"/>
<line x1="465.5" y1="80.8" x2="463" y2="80.8" stroke="#333" stroke-width="0.9" stroke-linecap="butt"/>
<line x1="291.5" y1="230.59" x2="293.1" y2="230.59" stroke="#333" stroke-width="0.9" stroke-linecap="butt"/>
<line x1="465.5" y1="230.59" x2="463.9" y2="230.59" stroke="#333" stroke-width="0.9" stroke-linecap="butt"/>
<line x1="291.5" y1="220.82" x2="293.1" y2="220.82" stroke="#333" stroke-width="0.9" stroke-linecap="butt"/>
<line x1="465.5" y1="220.82" x2="463.9" y2="220.82" stroke="#333" stroke-width="0.9" stroke-linecap="butt"/>
<line x1="291.5" y1="213.89" x2="293.1" y2="213.89" stroke="#333" stroke-width="0.9" stroke-linecap="butt"/>
<line x1="465.5" y1="213.89" x2="463.9" y2="213.89" stroke="#333" stroke-width="0.9" stroke-linecap="butt"/>
<line x1="291.5" y1="208.51" x2="293.1" y2="208.51" stroke="#333" stroke-width="0.9" stroke-linecap="butt"/>
<line x1="465.5" y1="208.51" x2="463.9" y2="208.51" stroke="#333" stroke-width="0.9" stroke-linecap="butt"/>
<line x1="291.5" y1="204.11" x2="293.1" y2="204.11" stroke="#333" stroke-width="0.9" stroke-linecap="butt"/>
<line x1="465.5" y1="204.11" x2="463.9" y2="204.11" stroke="#333" stroke-width="0.9" stroke-linecap="butt"/>
<line x1="291.5" y1="200.4" x2="293.1" y2="200.4" stroke="#333" stroke-width="0.9" stroke-linecap="butt"/>
<line x1="465.5" y1="200.4" x2="463.9" y2="200.4" stroke="#333" stroke-width="0.9" stroke-linecap="butt"/>
<line x1="291.5" y1="197.18" x2="293.1" y2="197.18" stroke="#333" stroke-width="0.9" stroke-linecap="butt"/>
<line x1="465.5" y1="197.18" x2="463.9" y2="197.18" stroke="#333" stroke-width="0.9" stroke-linecap="butt"/>
<line x1="291.5" y1="194.34" x2="293.1" y2="194.34" stroke="#333" stroke-width="0.9" stroke-linecap="butt"/>
<line x1="465.5" y1="194.34" x2="463.9" y2="194.34" stroke="#333" stroke-width="0.9" stroke-linecap="butt"/>
<line x1="291.5" y1="175.09" x2="293.1" y2="175.09" stroke="#333" stroke-width="0.9" stroke-linecap="butt"/>
<line x1="465.5" y1="175.09" x2="463.9" y2="175.09" stroke="#333" stroke-width="0.9" stroke-linecap="butt"/>
<line x1="291.5" y1="165.32" x2="293.1" y2="165.32" stroke="#333" stroke-width="0.9" stroke-linecap="butt"/>
<line x1="465.5" y1="165.32" x2="463.9" y2="165.32" stroke="#333" stroke-width="0.9" stroke-linecap="butt"/>
<line x1="291.5" y1="158.39" x2="293.1" y2="158.39" stroke="#333" stroke-width="0.9" stroke-linecap="butt"/>
<line x1="465.5" y1="158.39" x2="463.9" y2="158.39" stroke="#333" stroke-width="0.9" stroke-linecap="butt"/>
<line x1="291.5" y1="153.01" x2="293.1" y2="153.01" stroke="#333" stroke-width="0.9" stroke-linecap="butt"/>
<line x1="465.5" y1="153.01" x2="463.9" y2="153.01" stroke="#333" stroke-width="0.9" stroke-linecap="butt"/>
<line x1="291.5" y1="148.61" x2="293.1" y2="148.61" stroke="#333" stroke-width="0.9" stroke-linecap="butt"/>
<line x1="465.5" y1="148.61" x2="463.9" y2="148.61" stroke="#333" stroke-width="0.9" stroke-linecap="butt"/>
<line x1="291.5" y1="144.9" x2="293.1" y2="144.9" stroke="#333" stroke-width="0.9" stroke-linecap="butt"/>
<line x1="465.5" y1="144.9" x2="463.9" y2="144.9" stroke="#333" stroke-width="0.9" stroke-linecap="butt"/>
<line x1="291.5" y1="141.68" x2="293.1" y2="141.68" stroke="#333" stroke-width="0.9" stroke-linecap="butt"/>
<line x1="465.5" y1="141.68" x2="463.9" y2="141.68" stroke="#333" stroke-width="0.9" stroke-linecap="butt"/>
<line x1="291.5" y1="138.84" x2="293.1" y2="138.84" stroke="#333" stroke-width="0.9" stroke-linecap="butt"/>
<line x1="465.5" y1="138.84" x2="463.9" y2="138.84" stroke="#333" stroke-width="0.9" stroke-linecap="butt"/>
<line x1="291.5" y1="119.59" x2="293.1" y2="119.59" stroke="#333" stroke-width="0.9" stroke-linecap="butt"/>
<line x1="465.5" y1="119.59" x2="463.9" y2="119.59" stroke="#333" stroke-width="0.9" stroke-linecap="butt"/>
<line x1="291.5" y1="109.82" x2="293.1" y2="109.82" stroke="#333" stroke-width="0.9" stroke-linecap="butt"/>
<line x1="465.5" y1="109.82" x2="463.9" y2="109.82" stroke="#333" stroke-width="0.9" stroke-linecap="butt"/>
<line x1="291.5" y1="102.89" x2="293.1" y2="102.89" stroke="#333" stroke-width="0.9" stroke-linecap="butt"/>
<line x1="465.5" y1="102.89" x2="463.9" y2="102.89" stroke="#333" stroke-width="0.9" stroke-linecap="butt"/>
<line x1="291.5" y1="97.51" x2="293.1" y2="97.51" stroke="#333" stroke-width="0.9" stroke-linecap="butt"/>
<line x1="465.5" y1="97.51" x2="463.9" y2="97.51" stroke="#333" stroke-width="0.9" stroke-linecap="butt"/>
<line x1="291.5" y1="93.11" x2="293.1" y2="93.11" stroke="#333" stroke-width="0.9" stroke-linecap="butt"/>
<line x1="465.5" y1="93.11" x2="463.9" y2="93.11" stroke="#333" stroke-width="0.9" stroke-linecap="butt"/>
<line x1="291.5" y1="89.4" x2="293.1" y2="89.4" stroke="#333" stroke-width="0.9" stroke-linecap="butt"/>
<line x1="465.5" y1="89.4" x2="463.9" y2="89.4" stroke="#333" stroke-width="0.9" stroke-linecap="butt"/>
<line x1="291.5" y1="86.18" x2="293.1" y2="86.18" stroke="#333" stroke-width="0.9" stroke-linecap="butt"/>
<line x1="465.5" y1="86.18" x2="463.9" y2="86.18" stroke="#333" stroke-width="0.9" stroke-linecap="butt"/>
<line x1="291.5" y1="83.34" x2="293.1" y2="83.34" stroke="#333" stroke-width="0.9" stroke-linecap="butt"/>
<line x1="465.5" y1="83.34" x2="463.9" y2="83.34" stroke="#333" stroke-width="0.9" stroke-linecap="butt"/>
<line x1="291.5" y1="64.09" x2="293.1" y2="64.09" stroke="#333" stroke-width="0.9" stroke-linecap="butt"/>
<line x1="465.5" y1="64.09" x2="463.9" y2="64.09" stroke="#333" stroke-width="0.9" stroke-linecap="butt"/>
<line x1="291.5" y1="54.32" x2="293.1" y2="54.32" stroke="#333" stroke-width="0.9" stroke-linecap="butt"/>
<line x1="465.5" y1="54.32" x2="463.9" y2="54.32" stroke="#333" stroke-width="0.9" stroke-linecap="butt"/>
<line x1="291.5" y1="47.39" x2="293.1" y2="47.39" stroke="#333" stroke-width="0.9" stroke-linecap="butt"/>
<line x1="465.5" y1="47.39" x2="463.9" y2="47.39" stroke="#333" stroke-width="0.9" stroke-linecap="butt"/>
<line x1="291.5" y1="42.01" x2="293.1" y2="42.01" stroke="#333" stroke-width="0.9" stroke-linecap="butt"/>
<line x1="465.5" y1="42.01" x2="463.9" y2="42.01" stroke="#333" stroke-width="0.9" stroke-linecap="butt"/>
<clipPath id="cc"><rect x="539.0" y="41.6" width="173.79999999999995" height="205.70000000000002"/></clipPath>
<g clip-path="url(#cc)">
<path d="M539.3,103.91 L539.73,104.98 L540.17,106.06 L540.6,107.14 L541.04,108.23 L541.48,109.32 L541.93,110.42 L542.37,111.51 L542.82,112.62 L543.28,113.72 L543.73,114.83 L544.19,115.94 L544.65,117.06 L545.12,118.17 L545.59,119.29 L546.06,120.41 L546.54,121.53 L547.02,122.65 L547.51,123.77 L548,124.89 L548.5,126.01 L549,127.13 L549.51,128.24 L550.03,129.36 L550.55,130.48 L551.07,131.59 L551.6,132.7 L552.14,133.81 L552.68,134.91 L553.24,136.01 L553.79,137.11 L554.36,138.2 L554.93,139.29 L555.51,140.37 L556.1,141.45 L556.69,142.53 L557.29,143.6 L557.9,144.66 L558.52,145.71 L559.15,146.76 L559.79,147.8 L560.43,148.84 L561.09,149.86 L561.75,150.88 L562.42,151.89 L563.1,152.89 L563.8,153.89 L564.5,154.87 L565.21,155.84 L565.93,156.81 L566.66,157.76 L567.41,158.7 L568.16,159.63 L568.93,160.55 L569.7,161.46 L570.49,162.35 L571.29,163.24 L572.1,164.11 L572.93,164.97 L573.76,165.81 L574.61,166.64 L575.47,167.46 L576.34,168.27 L577.22,169.06 L578.11,169.85 L579.01,170.62 L579.92,171.38 L580.84,172.14 L581.77,172.88 L582.7,173.62 L583.64,174.35 L584.59,175.07 L585.55,175.78 L586.52,176.49 L587.49,177.19 L588.46,177.89 L589.44,178.58 L590.43,179.27 L591.42,179.96 L592.41,180.64 L593.41,181.31 L594.41,181.99 L595.41,182.66 L596.42,183.34 L597.42,184.01 L598.43,184.68 L599.44,185.35 L600.45,186.03 L601.46,186.7 L602.47,187.38 L603.48,188.06 L604.49,188.74 L605.5,189.43 L606.5,190.12 L607.51,190.81 L608.51,191.51 L609.5,192.22 L610.5,192.93 L611.49,193.65 L612.47,194.38 L613.45,195.11 L614.43,195.85 L615.4,196.6 L616.36,197.36 L617.31,198.13 L618.26,198.91 L619.21,199.7 L620.14,200.5 L621.07,201.31 L621.99,202.14 L622.9,202.97 L623.81,203.8 L624.72,204.64 L625.62,205.47 L626.52,206.31 L627.43,207.14 L628.34,207.96 L629.24,208.77 L630.16,209.58 L631.08,210.36 L632,211.13 L632.94,211.89 L633.88,212.62 L634.83,213.33 L635.8,214.01 L636.78,214.67 L637.77,215.29 L638.78,215.88 L639.8,216.44 L640.85,216.96 L641.91,217.44 L642.99,217.88 L644.09,218.27 L645.22,218.62 L646.37,218.92 L647.53,219.19 L648.72,219.42 L649.91,219.62 L651.12,219.79 L652.34,219.94 L653.58,220.07 L654.81,220.18 L656.06,220.27 L657.3,220.36 L658.55,220.43 L659.8,220.51 L661.05,220.59 L662.29,220.67 L663.52,220.75 L664.75,220.85 L665.97,220.97 L667.17,221.1 L668.37,221.25 L669.54,221.43 L670.7,221.64 L671.84,221.88 L672.96,222.16 L674.06,222.48 L675.13,222.84 L676.18,223.23 L677.2,223.67 L678.2,224.16 L679.18,224.68 L680.13,225.24 L681.05,225.85 L681.94,226.49 L682.81,227.18 L683.66,227.92 L684.47,228.69 L685.26,229.51 L686.02,230.37 L686.75,231.28 L687.46,232.22 L688.13,233.22 L688.77,234.25 L689.39,235.33 L689.97,236.46 L690.53,237.63 L691.05,238.84 L691.54,240.1 L692,241.41 L692.43,242.76 L692.83,244.16" fill="none" stroke="#c9cf9f" stroke-width="1.2" stroke-linecap="round" stroke-linejoin="round" />
<path d="M539.14,77.57 L539.53,78.63 L539.92,79.7 L540.31,80.77 L540.7,81.85 L541.09,82.94 L541.48,84.03 L541.87,85.14 L542.26,86.24 L542.65,87.36 L543.04,88.48 L543.44,89.6 L543.83,90.73 L544.23,91.87 L544.64,93.01 L545.04,94.15 L545.45,95.29 L545.86,96.44 L546.28,97.59 L546.7,98.74 L547.12,99.89 L547.55,101.05 L547.98,102.2 L548.42,103.36 L548.86,104.51 L549.31,105.67 L549.76,106.82 L550.22,107.97 L550.68,109.12 L551.16,110.27 L551.63,111.41 L552.12,112.56 L552.61,113.69 L553.11,114.83 L553.62,115.96 L554.14,117.09 L554.66,118.21 L555.19,119.32 L555.73,120.43 L556.28,121.54 L556.84,122.63 L557.41,123.72 L557.99,124.8 L558.58,125.88 L559.18,126.94 L559.79,128 L560.41,129.05 L561.04,130.09 L561.69,131.12 L562.34,132.13 L563.01,133.14 L563.69,134.14 L564.38,135.12 L565.08,136.1 L565.8,137.06 L566.53,138 L567.27,138.94 L568.03,139.86 L568.8,140.77 L569.58,141.66 L570.38,142.54 L571.2,143.4 L572.03,144.25 L572.87,145.08 L573.73,145.9 L574.6,146.7 L575.49,147.48 L576.39,148.26 L577.3,149.02 L578.22,149.77 L579.15,150.5 L580.1,151.22 L581.05,151.94 L582.02,152.64 L582.99,153.33 L583.97,154.01 L584.96,154.68 L585.96,155.34 L586.96,156 L587.97,156.64 L588.99,157.28 L590.01,157.91 L591.04,158.54 L592.07,159.15 L593.1,159.77 L594.14,160.38 L595.18,160.98 L596.22,161.58 L597.27,162.17 L598.31,162.76 L599.36,163.35 L600.4,163.94 L601.45,164.53 L602.49,165.11 L603.53,165.7 L604.57,166.29 L605.61,166.89 L606.64,167.49 L607.66,168.09 L608.68,168.71 L609.69,169.34 L610.7,169.98 L611.69,170.63 L612.68,171.29 L613.66,171.98 L614.63,172.67 L615.58,173.39 L616.53,174.13 L617.46,174.89 L618.38,175.67 L619.28,176.47 L620.17,177.3 L621.05,178.16 L621.91,179.04 L622.75,179.94 L623.59,180.85 L624.42,181.78 L625.24,182.72 L626.06,183.67 L626.87,184.63 L627.68,185.59 L628.49,186.55 L629.3,187.5 L630.11,188.45 L630.93,189.39 L631.75,190.32 L632.58,191.24 L633.41,192.14 L634.26,193.02 L635.12,193.88 L635.99,194.71 L636.88,195.51 L637.78,196.28 L638.7,197.02 L639.64,197.72 L640.6,198.38 L641.58,199 L642.59,199.57 L643.62,200.09 L644.68,200.57 L645.76,200.99 L646.85,201.36 L647.97,201.68 L649.1,201.94 L650.25,202.14 L651.41,202.29 L652.58,202.37 L653.76,202.39 L654.94,202.35 L656.13,202.25 L657.32,202.08 L658.51,201.84 L659.7,201.53 L660.88,201.16 L662.06,200.71 L663.24,200.19 L664.4,199.59 L665.55,198.92 L666.69,198.18 L667.81,197.4 L668.93,196.61 L670.03,195.82 L671.12,195.07 L672.19,194.38 L673.26,193.77 L674.31,193.27 L675.34,192.9 L676.37,192.69 L677.38,192.66 L678.38,192.84 L679.36,193.22 L680.32,193.78 L681.24,194.49 L682.13,195.32 L682.97,196.25 L683.75,197.26 L684.47,198.3 L685.13,199.38 L685.72,200.49 L686.27,201.62 L686.76,202.78 L687.21,203.95 L687.62,205.14 L688,206.34 L688.35,207.55 L688.67,208.76 L688.98,209.98 L689.27,211.2 L689.55,212.42 L689.83,213.63 L690.11,214.83 L690.4,216.03 L690.7,217.2 L691.01,218.36 L691.34,219.5 L691.7,220.61 L692.1,221.7 L692.52,222.76 L692.99,223.78" fill="none" stroke="#7f9e8a" stroke-width="1.5" stroke-linecap="round" stroke-linejoin="round" />
<path d="M539.28,57.21 L539.44,58.51 L539.63,59.78 L539.85,61.03 L540.1,62.27 L540.38,63.48 L540.69,64.68 L541.02,65.86 L541.38,67.03 L541.76,68.18 L542.17,69.31 L542.59,70.44 L543.04,71.55 L543.5,72.66 L543.98,73.75 L544.48,74.83 L544.99,75.91 L545.51,76.98 L546.04,78.04 L546.58,79.1 L547.13,80.16 L547.69,81.21 L548.25,82.26 L548.82,83.31 L549.39,84.36 L549.97,85.42 L550.54,86.47 L551.11,87.53 L551.68,88.59 L552.24,89.66 L552.8,90.73 L553.36,91.81 L553.9,92.9 L554.44,93.99 L554.98,95.09 L555.51,96.19 L556.03,97.3 L556.56,98.41 L557.08,99.53 L557.61,100.64 L558.13,101.75 L558.66,102.87 L559.2,103.98 L559.73,105.09 L560.28,106.19 L560.83,107.29 L561.39,108.38 L561.95,109.46 L562.53,110.54 L563.12,111.61 L563.73,112.67 L564.34,113.71 L564.97,114.75 L565.62,115.77 L566.29,116.78 L566.97,117.77 L567.67,118.75 L568.4,119.71 L569.14,120.65 L569.91,121.57 L570.7,122.48 L571.5,123.36 L572.33,124.23 L573.18,125.08 L574.05,125.9 L574.94,126.71 L575.85,127.49 L576.78,128.25 L577.73,129 L578.69,129.71 L579.67,130.41 L580.67,131.08 L581.69,131.73 L582.73,132.36 L583.78,132.96 L584.85,133.54 L585.93,134.1 L587.02,134.64 L588.12,135.16 L589.23,135.67 L590.35,136.17 L591.46,136.67 L592.58,137.17 L593.7,137.67 L594.81,138.17 L595.91,138.68 L597,139.2 L598.08,139.74 L599.15,140.29 L600.2,140.86 L601.24,141.45 L602.27,142.06 L603.28,142.68 L604.28,143.33 L605.27,143.98 L606.25,144.66 L607.21,145.35 L608.17,146.05 L609.11,146.77 L610.05,147.5 L610.98,148.24 L611.9,149 L612.82,149.77 L613.73,150.55 L614.63,151.34 L615.53,152.14 L616.42,152.95 L617.31,153.78 L618.2,154.61 L619.08,155.45 L619.96,156.29 L620.84,157.15 L621.72,158.01 L622.6,158.88 L623.48,159.75 L624.36,160.63 L625.24,161.52 L626.13,162.41 L627.01,163.3 L627.9,164.2 L628.79,165.1 L629.69,166 L630.6,166.9 L631.5,167.79 L632.42,168.67 L633.34,169.54 L634.27,170.39 L635.21,171.22 L636.16,172.02 L637.11,172.8 L638.08,173.55 L639.05,174.26 L640.04,174.93 L641.04,175.56 L642.05,176.15 L643.07,176.68 L644.11,177.16 L645.16,177.59 L646.23,177.95 L647.31,178.25 L648.41,178.48 L649.52,178.64 L650.65,178.73 L651.8,178.74 L652.96,178.67 L654.15,178.51 L655.34,178.28 L656.55,177.99 L657.77,177.65 L659,177.26 L660.23,176.83 L661.47,176.37 L662.7,175.9 L663.93,175.41 L665.16,174.93 L666.38,174.45 L667.58,173.98 L668.77,173.54 L669.95,173.13 L671.11,172.77 L672.25,172.46 L673.36,172.21 L674.45,172.02 L675.51,171.91 L676.53,171.89 L677.53,171.97 L678.48,172.15 L679.4,172.43 L680.28,172.82 L681.13,173.29 L681.94,173.86 L682.72,174.51 L683.46,175.24 L684.18,176.05 L684.86,176.92 L685.5,177.85 L686.12,178.85 L686.71,179.89 L687.27,180.99 L687.8,182.13 L688.3,183.3 L688.78,184.51 L689.23,185.74 L689.65,187 L690.05,188.27 L690.43,189.55 L690.78,190.84 L691.11,192.13 L691.42,193.42 L691.71,194.7 L691.98,195.96 L692.23,197.2 L692.46,198.42 L692.68,199.61 L692.87,200.76" fill="none" stroke="#4a7b80" stroke-width="1.9" stroke-linecap="round" stroke-linejoin="round" />
<path d="M539.24,71.58 L540.03,72.46 L540.81,73.35 L541.59,74.24 L542.37,75.15 L543.15,76.06 L543.93,76.98 L544.72,77.9 L545.51,78.83 L546.3,79.75 L547.09,80.68 L547.89,81.61 L548.69,82.54 L549.5,83.47 L550.31,84.39 L551.13,85.31 L551.95,86.22 L552.79,87.12 L553.63,88.02 L554.48,88.9 L555.34,89.78 L556.21,90.64 L557.09,91.49 L557.98,92.33 L558.88,93.14 L559.79,93.95 L560.72,94.73 L561.66,95.49 L562.61,96.24 L563.57,96.97 L564.55,97.69 L565.53,98.39 L566.52,99.07 L567.53,99.74 L568.54,100.39 L569.56,101.03 L570.6,101.66 L571.63,102.27 L572.68,102.87 L573.74,103.46 L574.8,104.04 L575.86,104.6 L576.94,105.16 L578.02,105.71 L579.1,106.24 L580.19,106.77 L581.29,107.29 L582.38,107.8 L583.48,108.3 L584.59,108.8 L585.7,109.29 L586.81,109.77 L587.92,110.25 L589.03,110.73 L590.14,111.2 L591.26,111.67 L592.37,112.14 L593.48,112.61 L594.59,113.08 L595.69,113.56 L596.8,114.04 L597.89,114.53 L598.99,115.03 L600.08,115.54 L601.16,116.06 L602.23,116.59 L603.3,117.14 L604.36,117.7 L605.41,118.28 L606.45,118.87 L607.48,119.49 L608.5,120.12 L609.51,120.78 L610.5,121.46 L611.48,122.17 L612.45,122.91 L613.41,123.67 L614.35,124.46 L615.27,125.28 L616.18,126.13 L617.08,126.99 L617.96,127.88 L618.84,128.77 L619.71,129.67 L620.57,130.56 L621.43,131.46 L622.29,132.34 L623.14,133.21 L624,134.07 L624.85,134.92 L625.71,135.76 L626.57,136.59 L627.43,137.41 L628.3,138.22 L629.17,139.02 L630.06,139.81 L630.95,140.6 L631.85,141.39 L632.76,142.17 L633.69,142.95 L634.63,143.72 L635.59,144.49 L636.56,145.26 L637.54,146.03 L638.55,146.79 L639.57,147.54 L640.61,148.28 L641.66,148.98 L642.72,149.65 L643.8,150.27 L644.88,150.84 L645.98,151.35 L647.08,151.8 L648.19,152.16 L649.3,152.44 L650.42,152.63 L651.55,152.72 L652.67,152.69 L653.8,152.56 L654.92,152.32 L656.04,151.98 L657.15,151.55 L658.25,151.04 L659.34,150.45 L660.41,149.8 L661.47,149.08 L662.51,148.31 L663.55,147.51 L664.57,146.69 L665.6,145.85 L666.63,145.01 L667.68,144.18 L668.73,143.38 L669.81,142.61 L670.9,141.9 L672,141.25 L673.11,140.69 L674.21,140.23 L675.3,139.89 L676.37,139.69 L677.41,139.65 L678.42,139.77 L679.39,140.06 L680.33,140.5 L681.22,141.07 L682.08,141.76 L682.9,142.56 L683.68,143.46 L684.42,144.43 L685.12,145.48 L685.77,146.57 L686.38,147.71 L686.94,148.87 L687.46,150.04 L687.94,151.23 L688.38,152.42 L688.78,153.61 L689.15,154.81 L689.49,156.01 L689.8,157.22 L690.09,158.42 L690.37,159.63 L690.62,160.83 L690.87,162.03 L691.11,163.22 L691.34,164.41 L691.57,165.59 L691.8,166.76 L692.04,167.93 L692.28,169.08 L692.54,170.21 L692.82,171.34" fill="none" stroke="#0d3c6e" stroke-width="2.7" stroke-linecap="round" stroke-linejoin="round" />
<path d="M539.27,55.17 L540.39,55.62 L541.48,56.12 L542.57,56.64 L543.64,57.19 L544.71,57.76 L545.77,58.36 L546.82,58.97 L547.86,59.6 L548.9,60.24 L549.94,60.88 L550.98,61.53 L552.02,62.18 L553.06,62.83 L554.1,63.47 L555.14,64.1 L556.2,64.72 L557.25,65.33 L558.32,65.91 L559.4,66.47 L560.48,67.01 L561.58,67.51 L562.69,68 L563.81,68.46 L564.93,68.9 L566.07,69.32 L567.21,69.72 L568.36,70.1 L569.51,70.47 L570.67,70.83 L571.84,71.18 L573,71.51 L574.18,71.84 L575.35,72.17 L576.52,72.49 L577.7,72.8 L578.88,73.12 L580.05,73.43 L581.22,73.75 L582.4,74.08 L583.57,74.41 L584.73,74.74 L585.89,75.09 L587.05,75.45 L588.2,75.82 L589.35,76.2 L590.49,76.6 L591.62,77.01 L592.74,77.44 L593.86,77.88 L594.97,78.34 L596.07,78.82 L597.16,79.31 L598.25,79.82 L599.32,80.34 L600.39,80.89 L601.44,81.45 L602.48,82.03 L603.52,82.63 L604.54,83.25 L605.55,83.89 L606.54,84.56 L607.53,85.24 L608.5,85.94 L609.46,86.67 L610.41,87.42 L611.34,88.2 L612.25,88.99 L613.16,89.81 L614.04,90.66 L614.92,91.53 L615.77,92.42 L616.62,93.33 L617.46,94.25 L618.3,95.17 L619.13,96.09 L619.96,97.01 L620.79,97.92 L621.63,98.81 L622.47,99.69 L623.32,100.54 L624.18,101.38 L625.05,102.19 L625.93,102.99 L626.82,103.77 L627.72,104.55 L628.62,105.31 L629.54,106.06 L630.46,106.81 L631.4,107.56 L632.34,108.3 L633.3,109.05 L634.26,109.8 L635.23,110.55 L636.22,111.31 L637.21,112.07 L638.21,112.85 L639.22,113.62 L640.24,114.39 L641.27,115.14 L642.31,115.86 L643.36,116.55 L644.42,117.2 L645.48,117.8 L646.56,118.34 L647.64,118.81 L648.73,119.2 L649.82,119.51 L650.92,119.73 L652.03,119.85 L653.15,119.86 L654.27,119.75 L655.39,119.55 L656.5,119.24 L657.61,118.83 L658.71,118.33 L659.79,117.73 L660.86,117.05 L661.91,116.3 L662.95,115.49 L663.98,114.64 L665,113.77 L666.03,112.89 L667.05,112.02 L668.09,111.18 L669.13,110.38 L670.19,109.65 L671.26,108.99 L672.34,108.41 L673.42,107.94 L674.49,107.59 L675.54,107.36 L676.57,107.27 L677.58,107.33 L678.54,107.55 L679.48,107.92 L680.38,108.43 L681.24,109.06 L682.06,109.8 L682.84,110.65 L683.58,111.58 L684.28,112.59 L684.94,113.67 L685.56,114.79 L686.13,115.96 L686.66,117.15 L687.14,118.36 L687.58,119.57 L687.97,120.78 L688.33,122 L688.65,123.22 L688.94,124.44 L689.2,125.66 L689.44,126.88 L689.65,128.1 L689.85,129.32 L690.04,130.54 L690.22,131.75 L690.4,132.96 L690.57,134.16 L690.75,135.36 L690.93,136.55 L691.13,137.74 L691.33,138.91 L691.56,140.08 L691.8,141.25 L692.07,142.4 L692.37,143.54 L692.7,144.67" fill="none" stroke="#081f5a" stroke-width="4.0" stroke-linecap="round" stroke-linejoin="round" />
</g>
<path d="M538,41.5 H714 M538,247.5 H714" stroke="#3c3c3c" stroke-width="1.15" fill="none"/>
<path d="M539,40.92 V248.07 M713,40.92 V248.07" stroke="#8c8c8c" stroke-width="2.0" fill="none"/>
<line x1="539" y1="247.5" x2="539" y2="245" stroke="#333" stroke-width="0.9" stroke-linecap="butt"/>
<line x1="539" y1="41.5" x2="539" y2="44" stroke="#333" stroke-width="0.9" stroke-linecap="butt"/>
<line x1="656.66" y1="247.5" x2="656.66" y2="245" stroke="#333" stroke-width="0.9" stroke-linecap="butt"/>
<line x1="656.66" y1="41.5" x2="656.66" y2="44" stroke="#333" stroke-width="0.9" stroke-linecap="butt"/>
<line x1="574.42" y1="247.5" x2="574.42" y2="245.9" stroke="#333" stroke-width="0.9" stroke-linecap="butt"/>
<line x1="574.42" y1="41.5" x2="574.42" y2="43.1" stroke="#333" stroke-width="0.9" stroke-linecap="butt"/>
<line x1="595.14" y1="247.5" x2="595.14" y2="245.9" stroke="#333" stroke-width="0.9" stroke-linecap="butt"/>
<line x1="595.14" y1="41.5" x2="595.14" y2="43.1" stroke="#333" stroke-width="0.9" stroke-linecap="butt"/>
<line x1="609.84" y1="247.5" x2="609.84" y2="245.9" stroke="#333" stroke-width="0.9" stroke-linecap="butt"/>
<line x1="609.84" y1="41.5" x2="609.84" y2="43.1" stroke="#333" stroke-width="0.9" stroke-linecap="butt"/>
<line x1="621.24" y1="247.5" x2="621.24" y2="245.9" stroke="#333" stroke-width="0.9" stroke-linecap="butt"/>
<line x1="621.24" y1="41.5" x2="621.24" y2="43.1" stroke="#333" stroke-width="0.9" stroke-linecap="butt"/>
<line x1="630.56" y1="247.5" x2="630.56" y2="245.9" stroke="#333" stroke-width="0.9" stroke-linecap="butt"/>
<line x1="630.56" y1="41.5" x2="630.56" y2="43.1" stroke="#333" stroke-width="0.9" stroke-linecap="butt"/>
<line x1="638.44" y1="247.5" x2="638.44" y2="245.9" stroke="#333" stroke-width="0.9" stroke-linecap="butt"/>
<line x1="638.44" y1="41.5" x2="638.44" y2="43.1" stroke="#333" stroke-width="0.9" stroke-linecap="butt"/>
<line x1="645.26" y1="247.5" x2="645.26" y2="245.9" stroke="#333" stroke-width="0.9" stroke-linecap="butt"/>
<line x1="645.26" y1="41.5" x2="645.26" y2="43.1" stroke="#333" stroke-width="0.9" stroke-linecap="butt"/>
<line x1="651.28" y1="247.5" x2="651.28" y2="245.9" stroke="#333" stroke-width="0.9" stroke-linecap="butt"/>
<line x1="651.28" y1="41.5" x2="651.28" y2="43.1" stroke="#333" stroke-width="0.9" stroke-linecap="butt"/>
<line x1="692.08" y1="247.5" x2="692.08" y2="245.9" stroke="#333" stroke-width="0.9" stroke-linecap="butt"/>
<line x1="692.08" y1="41.5" x2="692.08" y2="43.1" stroke="#333" stroke-width="0.9" stroke-linecap="butt"/>
<line x1="712.8" y1="247.5" x2="712.8" y2="245.9" stroke="#333" stroke-width="0.9" stroke-linecap="butt"/>
<line x1="712.8" y1="41.5" x2="712.8" y2="43.1" stroke="#333" stroke-width="0.9" stroke-linecap="butt"/>
<line x1="539.5" y1="220.39" x2="542" y2="220.39" stroke="#333" stroke-width="0.9" stroke-linecap="butt"/>
<line x1="712.5" y1="220.39" x2="710" y2="220.39" stroke="#333" stroke-width="0.9" stroke-linecap="butt"/>
<line x1="539.5" y1="130.99" x2="542" y2="130.99" stroke="#333" stroke-width="0.9" stroke-linecap="butt"/>
<line x1="712.5" y1="130.99" x2="710" y2="130.99" stroke="#333" stroke-width="0.9" stroke-linecap="butt"/>
<line x1="539.5" y1="41.6" x2="542" y2="41.6" stroke="#333" stroke-width="0.9" stroke-linecap="butt"/>
<line x1="712.5" y1="41.6" x2="710" y2="41.6" stroke="#333" stroke-width="0.9" stroke-linecap="butt"/>
<line x1="539.5" y1="247.3" x2="541.1" y2="247.3" stroke="#333" stroke-width="0.9" stroke-linecap="butt"/>
<line x1="712.5" y1="247.3" x2="710.9" y2="247.3" stroke="#333" stroke-width="0.9" stroke-linecap="butt"/>
<line x1="539.5" y1="240.22" x2="541.1" y2="240.22" stroke="#333" stroke-width="0.9" stroke-linecap="butt"/>
<line x1="712.5" y1="240.22" x2="710.9" y2="240.22" stroke="#333" stroke-width="0.9" stroke-linecap="butt"/>
<line x1="539.5" y1="234.24" x2="541.1" y2="234.24" stroke="#333" stroke-width="0.9" stroke-linecap="butt"/>
<line x1="712.5" y1="234.24" x2="710.9" y2="234.24" stroke="#333" stroke-width="0.9" stroke-linecap="butt"/>
<line x1="539.5" y1="229.05" x2="541.1" y2="229.05" stroke="#333" stroke-width="0.9" stroke-linecap="butt"/>
<line x1="712.5" y1="229.05" x2="710.9" y2="229.05" stroke="#333" stroke-width="0.9" stroke-linecap="butt"/>
<line x1="539.5" y1="224.48" x2="541.1" y2="224.48" stroke="#333" stroke-width="0.9" stroke-linecap="butt"/>
<line x1="712.5" y1="224.48" x2="710.9" y2="224.48" stroke="#333" stroke-width="0.9" stroke-linecap="butt"/>
<line x1="539.5" y1="193.48" x2="541.1" y2="193.48" stroke="#333" stroke-width="0.9" stroke-linecap="butt"/>
<line x1="712.5" y1="193.48" x2="710.9" y2="193.48" stroke="#333" stroke-width="0.9" stroke-linecap="butt"/>
<line x1="539.5" y1="177.74" x2="541.1" y2="177.74" stroke="#333" stroke-width="0.9" stroke-linecap="butt"/>
<line x1="712.5" y1="177.74" x2="710.9" y2="177.74" stroke="#333" stroke-width="0.9" stroke-linecap="butt"/>
<line x1="539.5" y1="166.57" x2="541.1" y2="166.57" stroke="#333" stroke-width="0.9" stroke-linecap="butt"/>
<line x1="712.5" y1="166.57" x2="710.9" y2="166.57" stroke="#333" stroke-width="0.9" stroke-linecap="butt"/>
<line x1="539.5" y1="157.91" x2="541.1" y2="157.91" stroke="#333" stroke-width="0.9" stroke-linecap="butt"/>
<line x1="712.5" y1="157.91" x2="710.9" y2="157.91" stroke="#333" stroke-width="0.9" stroke-linecap="butt"/>
<line x1="539.5" y1="150.83" x2="541.1" y2="150.83" stroke="#333" stroke-width="0.9" stroke-linecap="butt"/>
<line x1="712.5" y1="150.83" x2="710.9" y2="150.83" stroke="#333" stroke-width="0.9" stroke-linecap="butt"/>
<line x1="539.5" y1="144.84" x2="541.1" y2="144.84" stroke="#333" stroke-width="0.9" stroke-linecap="butt"/>
<line x1="712.5" y1="144.84" x2="710.9" y2="144.84" stroke="#333" stroke-width="0.9" stroke-linecap="butt"/>
<line x1="539.5" y1="139.66" x2="541.1" y2="139.66" stroke="#333" stroke-width="0.9" stroke-linecap="butt"/>
<line x1="712.5" y1="139.66" x2="710.9" y2="139.66" stroke="#333" stroke-width="0.9" stroke-linecap="butt"/>
<line x1="539.5" y1="135.09" x2="541.1" y2="135.09" stroke="#333" stroke-width="0.9" stroke-linecap="butt"/>
<line x1="712.5" y1="135.09" x2="710.9" y2="135.09" stroke="#333" stroke-width="0.9" stroke-linecap="butt"/>
<line x1="539.5" y1="104.08" x2="541.1" y2="104.08" stroke="#333" stroke-width="0.9" stroke-linecap="butt"/>
<line x1="712.5" y1="104.08" x2="710.9" y2="104.08" stroke="#333" stroke-width="0.9" stroke-linecap="butt"/>
<line x1="539.5" y1="88.34" x2="541.1" y2="88.34" stroke="#333" stroke-width="0.9" stroke-linecap="butt"/>
<line x1="712.5" y1="88.34" x2="710.9" y2="88.34" stroke="#333" stroke-width="0.9" stroke-linecap="butt"/>
<line x1="539.5" y1="77.17" x2="541.1" y2="77.17" stroke="#333" stroke-width="0.9" stroke-linecap="butt"/>
<line x1="712.5" y1="77.17" x2="710.9" y2="77.17" stroke="#333" stroke-width="0.9" stroke-linecap="butt"/>
<line x1="539.5" y1="68.51" x2="541.1" y2="68.51" stroke="#333" stroke-width="0.9" stroke-linecap="butt"/>
<line x1="712.5" y1="68.51" x2="710.9" y2="68.51" stroke="#333" stroke-width="0.9" stroke-linecap="butt"/>
<line x1="539.5" y1="61.43" x2="541.1" y2="61.43" stroke="#333" stroke-width="0.9" stroke-linecap="butt"/>
<line x1="712.5" y1="61.43" x2="710.9" y2="61.43" stroke="#333" stroke-width="0.9" stroke-linecap="butt"/>
<line x1="539.5" y1="55.45" x2="541.1" y2="55.45" stroke="#333" stroke-width="0.9" stroke-linecap="butt"/>
<line x1="712.5" y1="55.45" x2="710.9" y2="55.45" stroke="#333" stroke-width="0.9" stroke-linecap="butt"/>
<line x1="539.5" y1="50.26" x2="541.1" y2="50.26" stroke="#333" stroke-width="0.9" stroke-linecap="butt"/>
<line x1="712.5" y1="50.26" x2="710.9" y2="50.26" stroke="#333" stroke-width="0.9" stroke-linecap="butt"/>
<line x1="539.5" y1="45.69" x2="541.1" y2="45.69" stroke="#333" stroke-width="0.9" stroke-linecap="butt"/>
<line x1="712.5" y1="45.69" x2="710.9" y2="45.69" stroke="#333" stroke-width="0.9" stroke-linecap="butt"/>
<text x="19.45" y="145" font-size="15.29" textLength="16.99" lengthAdjust="spacingAndGlyphs" fill="#1e1e1e" stroke="#1e1e1e" stroke-width="0.3" >10</text>
<text x="37.46" y="136.8" font-size="11.57" textLength="10.67" lengthAdjust="spacingAndGlyphs" fill="#1e1e1e" stroke="#1e1e1e" stroke-width="0.3" >-6</text>
<text x="19.23" y="256.9" font-size="15.71" textLength="17.33" lengthAdjust="spacingAndGlyphs" fill="#1e1e1e" stroke="#1e1e1e" stroke-width="0.3" >10</text>
<text x="37.46" y="248.3" font-size="11" textLength="10.6" lengthAdjust="spacingAndGlyphs" fill="#1e1e1e" stroke="#1e1e1e" stroke-width="0.3" >-8</text>
<text transform="translate(15.9,201.8) rotate(-90)" x="-1.48" y="0" font-size="15.59" textLength="64.41" lengthAdjust="spacingAndGlyphs" fill="#1e1e1e" stroke="#1e1e1e" stroke-width="0.3" >Intensity,</text>
<text transform="translate(15.9,135.2) rotate(-90)" x="-1.42" y="0" font-size="15.94" textLength="4.39" lengthAdjust="spacingAndGlyphs" fill="#1e1e1e" stroke="#1e1e1e" stroke-width="0.3" >I</text>
<text transform="translate(15.9,127.8) rotate(-90)" x="-1.03" y="0" font-size="15.2" textLength="32.61" lengthAdjust="spacingAndGlyphs" fill="#1e1e1e" stroke="#1e1e1e" stroke-width="0.3" >[a.u.]</text>
<text x="42.74" y="266.1" font-size="15.43" textLength="27.38" lengthAdjust="spacingAndGlyphs" fill="#1e1e1e" stroke="#1e1e1e" stroke-width="0.3" >0.01</text>
<text x="158.26" y="266" font-size="15.14" textLength="18.93" lengthAdjust="spacingAndGlyphs" fill="#1e1e1e" stroke="#1e1e1e" stroke-width="0.3" >0.1</text>
<text x="195.22" y="266" font-size="15.14" textLength="20.1" lengthAdjust="spacingAndGlyphs" fill="#1e1e1e" stroke="#1e1e1e" stroke-width="0.3" >0.2</text>
<text x="115.99" y="287.4" font-size="15" textLength="27.17" lengthAdjust="spacingAndGlyphs" fill="#1e1e1e" stroke="#1e1e1e" stroke-width="0.3" >q [Å</text>
<text x="145.55" y="279.5" font-size="10.43" textLength="8.84" lengthAdjust="spacingAndGlyphs" fill="#1e1e1e" stroke="#1e1e1e" stroke-width="0.3" >-1</text>
<text x="157.86" y="287.4" font-size="15" textLength="3.85" lengthAdjust="spacingAndGlyphs" fill="#1e1e1e" stroke="#1e1e1e" stroke-width="0.3" >]</text>
<text x="80.4" y="70.4" font-size="14.35" textLength="24.5" lengthAdjust="spacingAndGlyphs" fill="#38bdf5" font-weight="bold" >Wet</text>
<text x="79.48" y="166.4" font-size="13.33" textLength="23.52" lengthAdjust="spacingAndGlyphs" fill="#6f6f6f" font-weight="bold" >Dry</text>
<text x="179.65" y="76.8" font-size="12.97" textLength="37.12" lengthAdjust="spacingAndGlyphs" fill="#777" stroke="#777" stroke-width="0.3" font-style="italic" >ionomer</text>
<text x="179.74" y="89.4" font-size="13.24" textLength="20.96" lengthAdjust="spacingAndGlyphs" fill="#777" stroke="#777" stroke-width="0.3" font-style="italic" >peak</text>
<line x1="61.8" y1="207.5" x2="92.9" y2="207.5" stroke="#b3ba8e" stroke-width="1.3" stroke-dasharray="1.3,1.8" stroke-linecap="butt"/>
<line x1="61.8" y1="222.2" x2="92.9" y2="222.2" stroke="#333" stroke-width="1.3" stroke-dasharray="4,3.4" stroke-linecap="butt"/>
<line x1="61.8" y1="235.1" x2="92.9" y2="235.1" stroke="#555" stroke-width="1.4" stroke-linecap="butt"/>
<text x="97.12" y="211.8" font-size="11.59" textLength="28.05" lengthAdjust="spacingAndGlyphs" fill="#a9b08a" stroke="#a9b08a" stroke-width="0.3" >10 keV</text>
<text x="97.35" y="226.7" font-size="11.57" textLength="33.2" lengthAdjust="spacingAndGlyphs" fill="#404040" stroke="#404040" stroke-width="0.3" >2460 eV</text>
<text x="97.35" y="239.7" font-size="12.43" textLength="33.2" lengthAdjust="spacingAndGlyphs" fill="#404040" stroke="#404040" stroke-width="0.3" >2476 eV</text>
<text x="257.5" y="145" font-size="15.43" textLength="16.32" lengthAdjust="spacingAndGlyphs" fill="#1e1e1e" stroke="#1e1e1e" stroke-width="0.3" >10</text>
<text x="275.66" y="137" font-size="12.29" textLength="10.67" lengthAdjust="spacingAndGlyphs" fill="#1e1e1e" stroke="#1e1e1e" stroke-width="0.3" >-6</text>
<text x="257.5" y="256.2" font-size="15.43" textLength="16.32" lengthAdjust="spacingAndGlyphs" fill="#1e1e1e" stroke="#1e1e1e" stroke-width="0.3" >10</text>
<text x="275.66" y="248.2" font-size="12" textLength="10.6" lengthAdjust="spacingAndGlyphs" fill="#1e1e1e" stroke="#1e1e1e" stroke-width="0.3" >-8</text>
<text transform="translate(254.4,201.8) rotate(-90)" x="-1.48" y="0" font-size="15.59" textLength="64.41" lengthAdjust="spacingAndGlyphs" fill="#1e1e1e" stroke="#1e1e1e" stroke-width="0.3" >Intensity,</text>
<text transform="translate(254.4,135.2) rotate(-90)" x="-1.42" y="0" font-size="15.94" textLength="4.39" lengthAdjust="spacingAndGlyphs" fill="#1e1e1e" stroke="#1e1e1e" stroke-width="0.3" >I</text>
<text transform="translate(254.4,127.8) rotate(-90)" x="-1.03" y="0" font-size="15.2" textLength="32.61" lengthAdjust="spacingAndGlyphs" fill="#1e1e1e" stroke="#1e1e1e" stroke-width="0.3" >[a.u.]</text>
<text x="284.04" y="265.8" font-size="15.29" textLength="27.07" lengthAdjust="spacingAndGlyphs" fill="#1e1e1e" stroke="#1e1e1e" stroke-width="0.3" >0.01</text>
<text x="399.45" y="265.8" font-size="15.14" textLength="19.25" lengthAdjust="spacingAndGlyphs" fill="#1e1e1e" stroke="#1e1e1e" stroke-width="0.3" >0.1</text>
<text x="436.32" y="265.8" font-size="15.14" textLength="20.21" lengthAdjust="spacingAndGlyphs" fill="#1e1e1e" stroke="#1e1e1e" stroke-width="0.3" >0.2</text>
<text x="359.29" y="287.4" font-size="15" textLength="27.17" lengthAdjust="spacingAndGlyphs" fill="#1e1e1e" stroke="#1e1e1e" stroke-width="0.3" >q [Å</text>
<text x="388.85" y="279.5" font-size="10.43" textLength="8.84" lengthAdjust="spacingAndGlyphs" fill="#1e1e1e" stroke="#1e1e1e" stroke-width="0.3" >-1</text>
<text x="401.16" y="287.4" font-size="15" textLength="3.85" lengthAdjust="spacingAndGlyphs" fill="#1e1e1e" stroke="#1e1e1e" stroke-width="0.3" >]</text>
<text x="296.8" y="82.6" font-size="14.35" textLength="24.6" lengthAdjust="spacingAndGlyphs" fill="#38bdf5" font-weight="bold" >Wet</text>
<text x="295.9" y="142" font-size="13.19" textLength="23.1" lengthAdjust="spacingAndGlyphs" fill="#6f6f6f" font-weight="bold" >Dry</text>
<text x="339.24" y="107.6" font-size="11.45" textLength="28.82" lengthAdjust="spacingAndGlyphs" fill="#777" stroke="#777" stroke-width="0.3" font-style="italic" >matrix</text>
<text x="339.25" y="120.5" font-size="11.45" textLength="21.02" lengthAdjust="spacingAndGlyphs" fill="#777" stroke="#777" stroke-width="0.3" font-style="italic" >knee</text>
<text x="415.85" y="65.1" font-size="12.55" textLength="37.12" lengthAdjust="spacingAndGlyphs" fill="#777" stroke="#777" stroke-width="0.3" font-style="italic" >ionomer</text>
<text x="415.94" y="77.2" font-size="12.97" textLength="20.96" lengthAdjust="spacingAndGlyphs" fill="#777" stroke="#777" stroke-width="0.3" font-style="italic" >peak</text>
<line x1="298.1" y1="222.3" x2="329.8" y2="222.3" stroke="#333" stroke-width="1.3" stroke-dasharray="4,3.4" stroke-linecap="butt"/>
<line x1="298.1" y1="235.1" x2="329.8" y2="235.1" stroke="#555" stroke-width="1.4" stroke-linecap="butt"/>
<text x="333.65" y="226.7" font-size="12" textLength="33.4" lengthAdjust="spacingAndGlyphs" fill="#404040" stroke="#404040" stroke-width="0.3" >2460 eV</text>
<text x="333.65" y="240" font-size="12.57" textLength="33.4" lengthAdjust="spacingAndGlyphs" fill="#404040" stroke="#404040" stroke-width="0.3" >2476 eV</text>
<text x="505.65" y="50.5" font-size="15.14" textLength="16.99" lengthAdjust="spacingAndGlyphs" fill="#1e1e1e" stroke="#1e1e1e" stroke-width="0.3" >10</text>
<text x="523.42" y="42.4" font-size="11.74" textLength="9.4" lengthAdjust="spacingAndGlyphs" fill="#1e1e1e" stroke="#1e1e1e" stroke-width="0.3" >-1</text>
<text x="505.65" y="140.1" font-size="15.43" textLength="16.99" lengthAdjust="spacingAndGlyphs" fill="#1e1e1e" stroke="#1e1e1e" stroke-width="0.3" >10</text>
<text x="523.34" y="132.1" font-size="12" textLength="11.07" lengthAdjust="spacingAndGlyphs" fill="#1e1e1e" stroke="#1e1e1e" stroke-width="0.3" >-2</text>
<text x="505.65" y="229.6" font-size="15.14" textLength="16.99" lengthAdjust="spacingAndGlyphs" fill="#1e1e1e" stroke="#1e1e1e" stroke-width="0.3" >10</text>
<text x="523.34" y="221.6" font-size="11.71" textLength="11" lengthAdjust="spacingAndGlyphs" fill="#1e1e1e" stroke="#1e1e1e" stroke-width="0.3" >-3</text>
<text transform="translate(498.3,201.6) rotate(-90)" x="-1.48" y="0" font-size="15.59" textLength="64.41" lengthAdjust="spacingAndGlyphs" fill="#1e1e1e" stroke="#1e1e1e" stroke-width="0.3" >Intensity,</text>
<text transform="translate(498.3,135) rotate(-90)" x="-1.42" y="0" font-size="15.94" textLength="4.39" lengthAdjust="spacingAndGlyphs" fill="#1e1e1e" stroke="#1e1e1e" stroke-width="0.3" >I</text>
<text transform="translate(498.3,127.6) rotate(-90)" x="-1.03" y="0" font-size="15.2" textLength="32.61" lengthAdjust="spacingAndGlyphs" fill="#1e1e1e" stroke="#1e1e1e" stroke-width="0.3" >[a.u.]</text>
<text x="532.72" y="266" font-size="15.29" textLength="28.33" lengthAdjust="spacingAndGlyphs" fill="#1e1e1e" stroke="#1e1e1e" stroke-width="0.3" >0.01</text>
<text x="648.25" y="266" font-size="15.14" textLength="19.25" lengthAdjust="spacingAndGlyphs" fill="#1e1e1e" stroke="#1e1e1e" stroke-width="0.3" >0.1</text>
<text x="685.22" y="266" font-size="15.14" textLength="20.21" lengthAdjust="spacingAndGlyphs" fill="#1e1e1e" stroke="#1e1e1e" stroke-width="0.3" >0.2</text>
<text x="608.99" y="287.4" font-size="15" textLength="27.17" lengthAdjust="spacingAndGlyphs" fill="#1e1e1e" stroke="#1e1e1e" stroke-width="0.3" >q [Å</text>
<text x="638.55" y="279.5" font-size="10.43" textLength="8.84" lengthAdjust="spacingAndGlyphs" fill="#1e1e1e" stroke="#1e1e1e" stroke-width="0.3" >-1</text>
<text x="650.86" y="287.4" font-size="15" textLength="3.85" lengthAdjust="spacingAndGlyphs" fill="#1e1e1e" stroke="#1e1e1e" stroke-width="0.3" >]</text>
<text x="660.63" y="79.8" font-size="11.72" textLength="48.06" lengthAdjust="spacingAndGlyphs" fill="#858585" stroke="#858585" stroke-width="0.3" >Thickness</text>
<text x="675.16" y="93.3" font-size="10.48" textLength="34.48" lengthAdjust="spacingAndGlyphs" fill="#858585" stroke="#858585" stroke-width="0.3" >in µm :</text>
<text x="694.77" y="132.6" font-size="10.29" textLength="14.07" lengthAdjust="spacingAndGlyphs" fill="#484848" stroke="#484848" stroke-width="0.3" >70</text>
<text x="694.91" y="169" font-size="10" textLength="13.61" lengthAdjust="spacingAndGlyphs" fill="#484848" stroke="#484848" stroke-width="0.3" >50</text>
<text x="694.45" y="204.3" font-size="10.58" textLength="14.09" lengthAdjust="spacingAndGlyphs" fill="#484848" stroke="#484848" stroke-width="0.3" >15</text>
<text x="694.45" y="222.6" font-size="9.86" textLength="14.09" lengthAdjust="spacingAndGlyphs" fill="#484848" stroke="#484848" stroke-width="0.3" >10</text>
<text x="699.76" y="240.6" font-size="9.71" textLength="7.49" lengthAdjust="spacingAndGlyphs" fill="#484848" stroke="#484848" stroke-width="0.3" >5</text>
<rect x="51.3" y="337" width="42" height="204.3" fill="url(#gr)"/>
<path d="M49,336.1 H224.7 M49,542.2 H224.7" stroke="#6a6a6a" stroke-width="1.8" fill="none"/>
<path d="M49.9,335.2 V543.1 M223.8,335.2 V543.1" stroke="#6a6a6a" stroke-width="1.8" fill="none"/>
<line x1="49.9" y1="541.5" x2="49.9" y2="539" stroke="#333" stroke-width="0.9" stroke-linecap="butt"/>
<line x1="49.9" y1="336.5" x2="49.9" y2="339" stroke="#333" stroke-width="0.9" stroke-linecap="butt"/>
<line x1="119.46" y1="541.5" x2="119.46" y2="539" stroke="#333" stroke-width="0.9" stroke-linecap="butt"/>
<line x1="119.46" y1="336.5" x2="119.46" y2="339" stroke="#333" stroke-width="0.9" stroke-linecap="butt"/>
<line x1="189.02" y1="541.5" x2="189.02" y2="539" stroke="#333" stroke-width="0.9" stroke-linecap="butt"/>
<line x1="189.02" y1="336.5" x2="189.02" y2="339" stroke="#333" stroke-width="0.9" stroke-linecap="butt"/>
<line x1="50.5" y1="336.1" x2="53" y2="336.1" stroke="#333" stroke-width="0.9" stroke-linecap="butt"/>
<line x1="223.5" y1="336.1" x2="221" y2="336.1" stroke="#333" stroke-width="0.9" stroke-linecap="butt"/>
<line x1="50.5" y1="377.32" x2="53" y2="377.32" stroke="#333" stroke-width="0.9" stroke-linecap="butt"/>
<line x1="223.5" y1="377.32" x2="221" y2="377.32" stroke="#333" stroke-width="0.9" stroke-linecap="butt"/>
<line x1="50.5" y1="418.54" x2="53" y2="418.54" stroke="#333" stroke-width="0.9" stroke-linecap="butt"/>
<line x1="223.5" y1="418.54" x2="221" y2="418.54" stroke="#333" stroke-width="0.9" stroke-linecap="butt"/>
<line x1="50.5" y1="459.76" x2="53" y2="459.76" stroke="#333" stroke-width="0.9" stroke-linecap="butt"/>
<line x1="223.5" y1="459.76" x2="221" y2="459.76" stroke="#333" stroke-width="0.9" stroke-linecap="butt"/>
<line x1="50.5" y1="500.98" x2="53" y2="500.98" stroke="#333" stroke-width="0.9" stroke-linecap="butt"/>
<line x1="223.5" y1="500.98" x2="221" y2="500.98" stroke="#333" stroke-width="0.9" stroke-linecap="butt"/>
<line x1="50.5" y1="542.2" x2="53" y2="542.2" stroke="#333" stroke-width="0.9" stroke-linecap="butt"/>
<line x1="223.5" y1="542.2" x2="221" y2="542.2" stroke="#333" stroke-width="0.9" stroke-linecap="butt"/>
<circle cx="67.29" cy="466.36" r="4.75" fill="#555555" stroke="#fff" stroke-width="0.5"/>
<circle cx="84.68" cy="422.25" r="4.75" fill="#555555" stroke="#fff" stroke-width="0.5"/>
<circle cx="84.68" cy="447.39" r="4.75" fill="#555555" stroke="#fff" stroke-width="0.5"/>
<circle cx="102.07" cy="437.09" r="4.75" fill="#555555" stroke="#fff" stroke-width="0.5"/>
<circle cx="119.46" cy="406.59" r="4.75" fill="#555555" stroke="#fff" stroke-width="0.5"/>
<circle cx="189.02" cy="379.38" r="4.75" fill="#555555" stroke="#fff" stroke-width="0.5"/>
<circle cx="67.29" cy="476.25" r="4.45" fill="#fff" stroke="#3a3a3a" stroke-width="1.1"/>
<circle cx="84.68" cy="465.94" r="4.45" fill="#fff" stroke="#3a3a3a" stroke-width="1.1"/>
<circle cx="84.68" cy="471.3" r="4.45" fill="#fff" stroke="#3a3a3a" stroke-width="1.1"/>
<circle cx="102.07" cy="466.36" r="4.45" fill="#fff" stroke="#3a3a3a" stroke-width="1.1"/>
<circle cx="119.46" cy="466.36" r="4.45" fill="#fff" stroke="#3a3a3a" stroke-width="1.1"/>
<circle cx="189.02" cy="427.61" r="4.45" fill="#fff" stroke="#3a3a3a" stroke-width="1.1"/>
<text x="24.92" y="342.6" font-size="15.43" textLength="20.27" lengthAdjust="spacingAndGlyphs" fill="#1e1e1e" stroke="#1e1e1e" stroke-width="0.3" >3.0</text>
<text x="23.35" y="383.74" font-size="15.43" textLength="20.93" lengthAdjust="spacingAndGlyphs" fill="#1e1e1e" stroke="#1e1e1e" stroke-width="0.3" >2.9</text>
<text x="23.35" y="424.88" font-size="15.43" textLength="20.85" lengthAdjust="spacingAndGlyphs" fill="#1e1e1e" stroke="#1e1e1e" stroke-width="0.3" >2.8</text>
<text x="23.34" y="466.02" font-size="15.43" textLength="21.01" lengthAdjust="spacingAndGlyphs" fill="#1e1e1e" stroke="#1e1e1e" stroke-width="0.3" >2.7</text>
<text x="23.35" y="507.16" font-size="15.43" textLength="20.93" lengthAdjust="spacingAndGlyphs" fill="#1e1e1e" stroke="#1e1e1e" stroke-width="0.3" >2.6</text>
<text x="23.6" y="548.3" font-size="15.43" textLength="19.57" lengthAdjust="spacingAndGlyphs" fill="#1e1e1e" stroke="#1e1e1e" stroke-width="0.3" >2.5</text>
<text x="44.59" y="564.9" font-size="15.43" textLength="9.13" lengthAdjust="spacingAndGlyphs" fill="#1e1e1e" stroke="#1e1e1e" stroke-width="0.3" >0</text>
<text x="109.81" y="564.9" font-size="15.43" textLength="17.66" lengthAdjust="spacingAndGlyphs" fill="#1e1e1e" stroke="#1e1e1e" stroke-width="0.3" >10</text>
<text x="179.58" y="564.9" font-size="15.43" textLength="17.23" lengthAdjust="spacingAndGlyphs" fill="#1e1e1e" stroke="#1e1e1e" stroke-width="0.3" >20</text>
<text transform="translate(13.2,523.3) rotate(-90)" x="-1.23" y="0" font-size="15.17" textLength="129.51" lengthAdjust="spacingAndGlyphs" fill="#1e1e1e" stroke="#1e1e1e" stroke-width="0.3" >Domain Spacing, d</text>
<text transform="translate(13.2,386.5) rotate(-90)" x="-1.13" y="0" font-size="15.45" textLength="31.44" lengthAdjust="spacingAndGlyphs" fill="#1e1e1e" stroke="#1e1e1e" stroke-width="0.3" >[nm]</text>
<text x="41.7" y="587.3" font-size="15.17" textLength="168" lengthAdjust="spacingAndGlyphs" fill="#1e1e1e" stroke="#1e1e1e" stroke-width="0.3" >Membrane Thickness, L [</text>
<text x="212.5" y="587.3" font-size="15" textLength="9.48" lengthAdjust="spacingAndGlyphs" fill="#1e1e1e" stroke="#1e1e1e" stroke-width="0.3" font-style="italic" >µ</text>
<text x="221.05" y="587.3" font-size="15" textLength="19.71" lengthAdjust="spacingAndGlyphs" fill="#1e1e1e" stroke="#1e1e1e" stroke-width="0.3" >m]</text>
<text x="52.59" y="329.6" font-size="14.78" textLength="23.31" lengthAdjust="spacingAndGlyphs" fill="#7a7a7a" font-weight="bold" >Dry</text>
<circle cx="167.7" cy="511.5" r="4.5" fill="#fff" stroke="#3a3a3a" stroke-width="1.1"/>
<circle cx="167.7" cy="525.9" r="4.85" fill="#555555" stroke="#fff" stroke-width="0.5"/>
<text x="181.55" y="515.6" font-size="12.14" textLength="33.6" lengthAdjust="spacingAndGlyphs" fill="#404040" stroke="#404040" stroke-width="0.3" >2460 eV</text>
<text x="181.55" y="529.7" font-size="11.71" textLength="33.6" lengthAdjust="spacingAndGlyphs" fill="#404040" stroke="#404040" stroke-width="0.3" >2476 eV</text>
<rect x="293.3" y="336.5" width="25" height="205" fill="url(#gr)"/>
<path d="M291.93,336.1 H467.07 M291.93,542.1 H467.07" stroke="#6a6a6a" stroke-width="1.8" fill="none"/>
<path d="M292.5,335.2 V543 M466.5,335.2 V543" stroke="#3c3c3c" stroke-width="1.15" fill="none"/>
<line x1="292.8" y1="542.5" x2="292.8" y2="540" stroke="#333" stroke-width="0.9" stroke-linecap="butt"/>
<line x1="292.8" y1="336.5" x2="292.8" y2="339" stroke="#333" stroke-width="0.9" stroke-linecap="butt"/>
<line x1="336.15" y1="542.5" x2="336.15" y2="540" stroke="#333" stroke-width="0.9" stroke-linecap="butt"/>
<line x1="336.15" y1="336.5" x2="336.15" y2="339" stroke="#333" stroke-width="0.9" stroke-linecap="butt"/>
<line x1="379.5" y1="542.5" x2="379.5" y2="540" stroke="#333" stroke-width="0.9" stroke-linecap="butt"/>
<line x1="379.5" y1="336.5" x2="379.5" y2="339" stroke="#333" stroke-width="0.9" stroke-linecap="butt"/>
<line x1="422.85" y1="542.5" x2="422.85" y2="540" stroke="#333" stroke-width="0.9" stroke-linecap="butt"/>
<line x1="422.85" y1="336.5" x2="422.85" y2="339" stroke="#333" stroke-width="0.9" stroke-linecap="butt"/>
<line x1="466.2" y1="542.5" x2="466.2" y2="540" stroke="#333" stroke-width="0.9" stroke-linecap="butt"/>
<line x1="466.2" y1="336.5" x2="466.2" y2="339" stroke="#333" stroke-width="0.9" stroke-linecap="butt"/>
<line x1="292.5" y1="336" x2="295" y2="336" stroke="#333" stroke-width="0.9" stroke-linecap="butt"/>
<line x1="466.5" y1="336" x2="464" y2="336" stroke="#333" stroke-width="0.9" stroke-linecap="butt"/>
<line x1="292.5" y1="377.2" x2="295" y2="377.2" stroke="#333" stroke-width="0.9" stroke-linecap="butt"/>
<line x1="466.5" y1="377.2" x2="464" y2="377.2" stroke="#333" stroke-width="0.9" stroke-linecap="butt"/>
<line x1="292.5" y1="418.4" x2="295" y2="418.4" stroke="#333" stroke-width="0.9" stroke-linecap="butt"/>
<line x1="466.5" y1="418.4" x2="464" y2="418.4" stroke="#333" stroke-width="0.9" stroke-linecap="butt"/>
<line x1="292.5" y1="459.6" x2="295" y2="459.6" stroke="#333" stroke-width="0.9" stroke-linecap="butt"/>
<line x1="466.5" y1="459.6" x2="464" y2="459.6" stroke="#333" stroke-width="0.9" stroke-linecap="butt"/>
<line x1="292.5" y1="500.8" x2="295" y2="500.8" stroke="#333" stroke-width="0.9" stroke-linecap="butt"/>
<line x1="466.5" y1="500.8" x2="464" y2="500.8" stroke="#333" stroke-width="0.9" stroke-linecap="butt"/>
<line x1="292.5" y1="542" x2="295" y2="542" stroke="#333" stroke-width="0.9" stroke-linecap="butt"/>
<line x1="466.5" y1="542" x2="464" y2="542" stroke="#333" stroke-width="0.9" stroke-linecap="butt"/>
<circle cx="303.4" cy="408.9" r="4.45" fill="#fff" stroke="#3a3a3a" stroke-width="1.1"/>
<circle cx="303.4" cy="411.6" r="4.75" fill="#555555" stroke="#fff" stroke-width="0.5"/>
<circle cx="308.8" cy="419.7" r="4.75" fill="#555555" stroke="#fff" stroke-width="0.5"/>
<circle cx="302.7" cy="428" r="4.45" fill="#fff" stroke="#3a3a3a" stroke-width="1.1"/>
<circle cx="309" cy="425.7" r="4.45" fill="#fff" stroke="#3a3a3a" stroke-width="1.1"/>
<circle cx="302.7" cy="435.8" r="4.75" fill="#555555" stroke="#fff" stroke-width="0.5"/>
<circle cx="309.3" cy="436.5" r="4.45" fill="#fff" stroke="#3a3a3a" stroke-width="1.1"/>
<circle cx="308.8" cy="445.5" r="4.75" fill="#555555" stroke="#fff" stroke-width="0.5"/>
<circle cx="314.2" cy="465.4" r="4.35" fill="#7f7f7f" stroke="#fff" stroke-width="0.5"/>
<circle cx="314.2" cy="469.6" r="4.35" fill="#7f7f7f" stroke="#fff" stroke-width="0.5"/>
<circle cx="325.2" cy="462.4" r="4.35" fill="#7f7f7f" stroke="#fff" stroke-width="0.5"/>
<circle cx="325.2" cy="476.2" r="4.35" fill="#7f7f7f" stroke="#fff" stroke-width="0.5"/>
<circle cx="336.2" cy="472.5" r="4.35" fill="#7f7f7f" stroke="#fff" stroke-width="0.5"/>
<circle cx="336.2" cy="479.1" r="4.35" fill="#7f7f7f" stroke="#fff" stroke-width="0.5"/>
<circle cx="401.3" cy="475.5" r="4.35" fill="#7f7f7f" stroke="#fff" stroke-width="0.5"/>
<circle cx="401.3" cy="483.4" r="4.35" fill="#7f7f7f" stroke="#fff" stroke-width="0.5"/>
<circle cx="444.8" cy="470.1" r="4.35" fill="#7f7f7f" stroke="#fff" stroke-width="0.5"/>
<text x="267.72" y="342.6" font-size="15.43" textLength="20.88" lengthAdjust="spacingAndGlyphs" fill="#1e1e1e" stroke="#1e1e1e" stroke-width="0.3" >4.8</text>
<text x="267.75" y="383.8" font-size="15.43" textLength="19.69" lengthAdjust="spacingAndGlyphs" fill="#1e1e1e" stroke="#1e1e1e" stroke-width="0.3" >4.6</text>
<text x="267.74" y="425" font-size="15.65" textLength="19.99" lengthAdjust="spacingAndGlyphs" fill="#1e1e1e" stroke="#1e1e1e" stroke-width="0.3" >4.4</text>
<text x="267.74" y="466.2" font-size="15.43" textLength="19.98" lengthAdjust="spacingAndGlyphs" fill="#1e1e1e" stroke="#1e1e1e" stroke-width="0.3" >4.2</text>
<text x="267.73" y="507.4" font-size="15.43" textLength="20.46" lengthAdjust="spacingAndGlyphs" fill="#1e1e1e" stroke="#1e1e1e" stroke-width="0.3" >4.0</text>
<text x="267.71" y="548.6" font-size="15.43" textLength="20.48" lengthAdjust="spacingAndGlyphs" fill="#1e1e1e" stroke="#1e1e1e" stroke-width="0.3" >3.8</text>
<text x="287.34" y="564.9" font-size="15.43" textLength="9.13" lengthAdjust="spacingAndGlyphs" fill="#1e1e1e" stroke="#1e1e1e" stroke-width="0.3" >0</text>
<text x="326.63" y="564.9" font-size="15.43" textLength="17.23" lengthAdjust="spacingAndGlyphs" fill="#1e1e1e" stroke="#1e1e1e" stroke-width="0.3" >20</text>
<text x="370.42" y="564.9" font-size="15.43" textLength="16.82" lengthAdjust="spacingAndGlyphs" fill="#1e1e1e" stroke="#1e1e1e" stroke-width="0.3" >40</text>
<text x="413.33" y="564.9" font-size="15.43" textLength="17.23" lengthAdjust="spacingAndGlyphs" fill="#1e1e1e" stroke="#1e1e1e" stroke-width="0.3" >60</text>
<text x="457.06" y="564.9" font-size="15.43" textLength="17.15" lengthAdjust="spacingAndGlyphs" fill="#1e1e1e" stroke="#1e1e1e" stroke-width="0.3" >80</text>
<text transform="translate(256.4,522.8) rotate(-90)" x="-1.23" y="0" font-size="15.17" textLength="129.41" lengthAdjust="spacingAndGlyphs" fill="#1e1e1e" stroke="#1e1e1e" stroke-width="0.3" >Domain Spacing, d</text>
<text transform="translate(256.4,386.2) rotate(-90)" x="-1.12" y="0" font-size="15.45" textLength="31.23" lengthAdjust="spacingAndGlyphs" fill="#1e1e1e" stroke="#1e1e1e" stroke-width="0.3" >[nm]</text>
<text x="277.7" y="587.4" font-size="15.17" textLength="168" lengthAdjust="spacingAndGlyphs" fill="#1e1e1e" stroke="#1e1e1e" stroke-width="0.3" >Membrane Thickness, L [</text>
<text x="448.5" y="587.4" font-size="15" textLength="9.48" lengthAdjust="spacingAndGlyphs" fill="#1e1e1e" stroke="#1e1e1e" stroke-width="0.3" font-style="italic" >µ</text>
<text x="457.05" y="587.4" font-size="15" textLength="19.71" lengthAdjust="spacingAndGlyphs" fill="#1e1e1e" stroke="#1e1e1e" stroke-width="0.3" >m]</text>
<text x="293.5" y="328.8" font-size="13.62" textLength="24.5" lengthAdjust="spacingAndGlyphs" fill="#38bdf5" font-weight="bold" >Wet</text>
<circle cx="406" cy="353.9" r="4.5" fill="#fff" stroke="#3a3a3a" stroke-width="1.1"/>
<circle cx="406" cy="368.2" r="4.7" fill="#555555" stroke="#fff" stroke-width="0.5"/>
<circle cx="406" cy="383.7" r="4.4" fill="#7f7f7f" stroke="#fff" stroke-width="0.5"/>
<text x="419.94" y="357.5" font-size="11.86" textLength="33.91" lengthAdjust="spacingAndGlyphs" fill="#404040" stroke="#404040" stroke-width="0.3" >2460 eV</text>
<text x="419.94" y="371.9" font-size="12.14" textLength="33.91" lengthAdjust="spacingAndGlyphs" fill="#404040" stroke="#404040" stroke-width="0.3" >2476 eV</text>
<text x="419.72" y="387.3" font-size="11.45" textLength="28.36" lengthAdjust="spacingAndGlyphs" fill="#404040" stroke="#404040" stroke-width="0.3" >10 keV</text>
<rect x="539.3" y="336.5" width="26" height="203" fill="url(#gr)"/>
<path d="M537.92,336.1 H713.08 M537.92,542.1 H713.08" stroke="#6a6a6a" stroke-width="1.8" fill="none"/>
<path d="M538.5,335.2 V543 M712.5,335.2 V543" stroke="#3c3c3c" stroke-width="1.15" fill="none"/>
<line x1="538.8" y1="542.5" x2="538.8" y2="540" stroke="#333" stroke-width="0.9" stroke-linecap="butt"/>
<line x1="538.8" y1="336.5" x2="538.8" y2="339" stroke="#333" stroke-width="0.9" stroke-linecap="butt"/>
<line x1="582.15" y1="542.5" x2="582.15" y2="540" stroke="#333" stroke-width="0.9" stroke-linecap="butt"/>
<line x1="582.15" y1="336.5" x2="582.15" y2="339" stroke="#333" stroke-width="0.9" stroke-linecap="butt"/>
<line x1="625.5" y1="542.5" x2="625.5" y2="540" stroke="#333" stroke-width="0.9" stroke-linecap="butt"/>
<line x1="625.5" y1="336.5" x2="625.5" y2="339" stroke="#333" stroke-width="0.9" stroke-linecap="butt"/>
<line x1="668.85" y1="542.5" x2="668.85" y2="540" stroke="#333" stroke-width="0.9" stroke-linecap="butt"/>
<line x1="668.85" y1="336.5" x2="668.85" y2="339" stroke="#333" stroke-width="0.9" stroke-linecap="butt"/>
<line x1="712.2" y1="542.5" x2="712.2" y2="540" stroke="#333" stroke-width="0.9" stroke-linecap="butt"/>
<line x1="712.2" y1="336.5" x2="712.2" y2="339" stroke="#333" stroke-width="0.9" stroke-linecap="butt"/>
<line x1="538.5" y1="336" x2="541" y2="336" stroke="#333" stroke-width="0.9" stroke-linecap="butt"/>
<line x1="712.5" y1="336" x2="710" y2="336" stroke="#333" stroke-width="0.9" stroke-linecap="butt"/>
<line x1="538.5" y1="377.2" x2="541" y2="377.2" stroke="#333" stroke-width="0.9" stroke-linecap="butt"/>
<line x1="712.5" y1="377.2" x2="710" y2="377.2" stroke="#333" stroke-width="0.9" stroke-linecap="butt"/>
<line x1="538.5" y1="418.4" x2="541" y2="418.4" stroke="#333" stroke-width="0.9" stroke-linecap="butt"/>
<line x1="712.5" y1="418.4" x2="710" y2="418.4" stroke="#333" stroke-width="0.9" stroke-linecap="butt"/>
<line x1="538.5" y1="459.6" x2="541" y2="459.6" stroke="#333" stroke-width="0.9" stroke-linecap="butt"/>
<line x1="712.5" y1="459.6" x2="710" y2="459.6" stroke="#333" stroke-width="0.9" stroke-linecap="butt"/>
<line x1="538.5" y1="500.8" x2="541" y2="500.8" stroke="#333" stroke-width="0.9" stroke-linecap="butt"/>
<line x1="712.5" y1="500.8" x2="710" y2="500.8" stroke="#333" stroke-width="0.9" stroke-linecap="butt"/>
<line x1="538.5" y1="542" x2="541" y2="542" stroke="#333" stroke-width="0.9" stroke-linecap="butt"/>
<line x1="712.5" y1="542" x2="710" y2="542" stroke="#333" stroke-width="0.9" stroke-linecap="butt"/>
<circle cx="570.8" cy="419.7" r="4.35" fill="#7f7f7f" stroke="#fff" stroke-width="0.5"/>
<circle cx="570.8" cy="427" r="4.35" fill="#7f7f7f" stroke="#fff" stroke-width="0.5"/>
<circle cx="559.9" cy="447.3" r="4.35" fill="#7f7f7f" stroke="#fff" stroke-width="0.5"/>
<circle cx="581.8" cy="443.6" r="4.35" fill="#7f7f7f" stroke="#fff" stroke-width="0.5"/>
<circle cx="647.2" cy="444.6" r="4.35" fill="#7f7f7f" stroke="#fff" stroke-width="0.5"/>
<circle cx="647.2" cy="453.8" r="4.35" fill="#7f7f7f" stroke="#fff" stroke-width="0.5"/>
<circle cx="690.6" cy="440.1" r="4.35" fill="#7f7f7f" stroke="#fff" stroke-width="0.5"/>
<circle cx="554.9" cy="486.1" r="4.75" fill="#555555" stroke="#fff" stroke-width="0.5"/>
<circle cx="554.9" cy="478.9" r="4.45" fill="#fff" stroke="#3a3a3a" stroke-width="1.1"/>
<circle cx="549.1" cy="505.1" r="4.75" fill="#555555" stroke="#fff" stroke-width="0.5"/>
<circle cx="549.1" cy="500" r="4.45" fill="#fff" stroke="#3a3a3a" stroke-width="1.1"/>
<text x="505.29" y="342.6" font-size="15.43" textLength="29.8" lengthAdjust="spacingAndGlyphs" fill="#1e1e1e" stroke="#1e1e1e" stroke-width="0.3" >0.12</text>
<text x="505.26" y="383.8" font-size="15.43" textLength="29.87" lengthAdjust="spacingAndGlyphs" fill="#1e1e1e" stroke="#1e1e1e" stroke-width="0.3" >0.11</text>
<text x="515.44" y="425" font-size="15.43" textLength="19.57" lengthAdjust="spacingAndGlyphs" fill="#1e1e1e" stroke="#1e1e1e" stroke-width="0.3" >0.1</text>
<text x="505.9" y="466.2" font-size="15.43" textLength="29.19" lengthAdjust="spacingAndGlyphs" fill="#1e1e1e" stroke="#1e1e1e" stroke-width="0.3" >0.09</text>
<text x="505.9" y="507.4" font-size="15.43" textLength="29.12" lengthAdjust="spacingAndGlyphs" fill="#1e1e1e" stroke="#1e1e1e" stroke-width="0.3" >0.08</text>
<text x="505.9" y="548.6" font-size="15.43" textLength="29.27" lengthAdjust="spacingAndGlyphs" fill="#1e1e1e" stroke="#1e1e1e" stroke-width="0.3" >0.07</text>
<text x="533.24" y="564.9" font-size="15.43" textLength="9.13" lengthAdjust="spacingAndGlyphs" fill="#1e1e1e" stroke="#1e1e1e" stroke-width="0.3" >0</text>
<text x="572.53" y="564.9" font-size="15.43" textLength="17.23" lengthAdjust="spacingAndGlyphs" fill="#1e1e1e" stroke="#1e1e1e" stroke-width="0.3" >20</text>
<text x="616.32" y="564.9" font-size="15.43" textLength="16.82" lengthAdjust="spacingAndGlyphs" fill="#1e1e1e" stroke="#1e1e1e" stroke-width="0.3" >40</text>
<text x="659.33" y="564.9" font-size="15.43" textLength="17.23" lengthAdjust="spacingAndGlyphs" fill="#1e1e1e" stroke="#1e1e1e" stroke-width="0.3" >60</text>
<text x="702.81" y="564.9" font-size="15.43" textLength="17.15" lengthAdjust="spacingAndGlyphs" fill="#1e1e1e" stroke="#1e1e1e" stroke-width="0.3" >80</text>
<text transform="translate(497.4,500.8) rotate(-90)" x="-1.19" y="0" font-size="15.36" textLength="50.5" lengthAdjust="spacingAndGlyphs" fill="#1e1e1e" stroke="#1e1e1e" stroke-width="0.3" >FWHM,</text>
<text transform="translate(497.6,441.5) rotate(-90)" x="-0.52" y="0" font-size="15" textLength="8.28" lengthAdjust="spacingAndGlyphs" fill="#1e1e1e" stroke="#1e1e1e" stroke-width="0.3" font-style="italic" >δ</text>
<text transform="translate(497.4,431.3) rotate(-90)" x="-0.61" y="0" font-size="15" textLength="38.22" lengthAdjust="spacingAndGlyphs" fill="#1e1e1e" stroke="#1e1e1e" stroke-width="0.3" >q [nm</text>
<text transform="translate(488.9,392.4) rotate(-90)" x="-0.47" y="0" font-size="12.03" textLength="9.28" lengthAdjust="spacingAndGlyphs" fill="#1e1e1e" stroke="#1e1e1e" stroke-width="0.3" >-1</text>
<text transform="translate(497.4,380.5) rotate(-90)" x="-0.18" y="0" font-size="15" textLength="4.99" lengthAdjust="spacingAndGlyphs" fill="#1e1e1e" stroke="#1e1e1e" stroke-width="0.3" >]</text>
<text x="526.7" y="586.9" font-size="15.17" textLength="168" lengthAdjust="spacingAndGlyphs" fill="#1e1e1e" stroke="#1e1e1e" stroke-width="0.3" >Membrane Thickness, L [</text>
<text x="697.5" y="586.9" font-size="15" textLength="9.48" lengthAdjust="spacingAndGlyphs" fill="#1e1e1e" stroke="#1e1e1e" stroke-width="0.3" font-style="italic" >µ</text>
<text x="706.05" y="586.9" font-size="15" textLength="19.71" lengthAdjust="spacingAndGlyphs" fill="#1e1e1e" stroke="#1e1e1e" stroke-width="0.3" >m]</text>
<text x="539.6" y="329" font-size="13.77" textLength="24.5" lengthAdjust="spacingAndGlyphs" fill="#38bdf5" font-weight="bold" >Wet</text>
<circle cx="656" cy="353.9" r="4.5" fill="#fff" stroke="#3a3a3a" stroke-width="1.1"/>
<circle cx="656" cy="368.2" r="4.7" fill="#555555" stroke="#fff" stroke-width="0.5"/>
<circle cx="656" cy="383.7" r="4.4" fill="#7f7f7f" stroke="#fff" stroke-width="0.5"/>
<text x="669.86" y="357.5" font-size="11.86" textLength="33.09" lengthAdjust="spacingAndGlyphs" fill="#404040" stroke="#404040" stroke-width="0.3" >2460 eV</text>
<text x="669.86" y="371.9" font-size="12.14" textLength="33.09" lengthAdjust="spacingAndGlyphs" fill="#404040" stroke="#404040" stroke-width="0.3" >2476 eV</text>
<text x="669.62" y="387.3" font-size="11.45" textLength="28.36" lengthAdjust="spacingAndGlyphs" fill="#404040" stroke="#404040" stroke-width="0.3" >10 keV</text>
</svg></body></html>
